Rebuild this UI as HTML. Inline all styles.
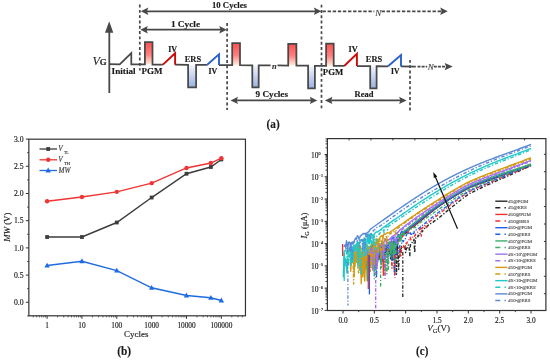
<!DOCTYPE html>
<html><head><meta charset="utf-8"><style>
text{stroke-width:0.15px;}
html,body{margin:0;padding:0;background:#fff;}
svg{display:block;will-change:transform;}
</style></head><body>
<svg width="550" height="360" viewBox="0 0 550 360">
<rect width="550" height="360" fill="#fff"/>
<line x1="139.8" y1="4.6" x2="139.8" y2="70.5" stroke="#484848" stroke-width="1.7" stroke-dasharray="2.9 2.4"/>
<line x1="227.1" y1="23.0" x2="227.1" y2="110.0" stroke="#484848" stroke-width="1.7" stroke-dasharray="2.9 2.4"/>
<line x1="321.5" y1="4.7" x2="321.5" y2="108.5" stroke="#484848" stroke-width="1.7" stroke-dasharray="2.9 2.4"/>
<line x1="410.0" y1="59.9" x2="410.0" y2="110.5" stroke="#484848" stroke-width="1.7" stroke-dasharray="2.9 2.4"/>
<line x1="144.8" y1="11.3" x2="317.4" y2="11.3" stroke="#484848" stroke-width="1.8"/>
<polygon points="140.80,11.30 148.30,7.60 147.00,11.30 148.30,15.00" fill="#484848"/>
<polygon points="321.40,11.30 313.90,7.60 315.20,11.30 313.90,15.00" fill="#484848"/>
<line x1="144.3" y1="29.7" x2="222.8" y2="29.7" stroke="#484848" stroke-width="1.8"/>
<polygon points="140.30,29.70 147.80,26.00 146.50,29.70 147.80,33.40" fill="#484848"/>
<polygon points="226.80,29.70 219.30,26.00 220.60,29.70 219.30,33.40" fill="#484848"/>
<line x1="234.5" y1="100.4" x2="313.3" y2="100.4" stroke="#484848" stroke-width="1.8"/>
<polygon points="230.50,100.40 238.00,96.70 236.70,100.40 238.00,104.10" fill="#484848"/>
<polygon points="317.30,100.40 309.80,96.70 311.10,100.40 309.80,104.10" fill="#484848"/>
<line x1="328.9" y1="100.4" x2="402.6" y2="100.4" stroke="#484848" stroke-width="1.8"/>
<polygon points="324.90,100.40 332.40,96.70 331.10,100.40 332.40,104.10" fill="#484848"/>
<polygon points="406.60,100.40 399.10,96.70 400.40,100.40 399.10,104.10" fill="#484848"/>
<line x1="322.5" y1="11.4" x2="374.3" y2="11.4" stroke="#484848" stroke-width="1.8" stroke-dasharray="3.4 1.7"/>
<line x1="381.5" y1="11.4" x2="442" y2="11.4" stroke="#484848" stroke-width="1.8" stroke-dasharray="3.4 1.7"/>
<polygon points="447.70,11.30 440.20,7.60 441.50,11.30 440.20,15.00" fill="#484848"/>
<text x="375.2" y="15.6" font-family="'Liberation Serif', serif" font-style="italic" font-size="9" fill="#484848" stroke="#484848">N</text>
<defs><linearGradient id="gp" x1="0" y1="0" x2="0" y2="1"><stop offset="0" stop-color="#ff5050"/><stop offset="0.55" stop-color="#ff8080"/><stop offset="1" stop-color="#ffeedd"/></linearGradient><linearGradient id="ge" x1="0" y1="0" x2="0" y2="1"><stop offset="0" stop-color="#f4f6fc"/><stop offset="1" stop-color="#98b0e0"/></linearGradient></defs>
<rect x="144.9" y="42.0" width="7.60" height="22.49" fill="url(#gp)"/>
<rect x="232.2" y="43.2" width="7.80" height="21.94" fill="url(#gp)"/>
<rect x="288.2" y="43.9" width="8.20" height="21.66" fill="url(#gp)"/>
<rect x="326.1" y="43.6" width="7.60" height="22.25" fill="url(#gp)"/>
<rect x="188.1" y="64.81" width="8.00" height="22.49" fill="url(#ge)"/>
<rect x="252.3" y="65.29" width="6.40" height="22.11" fill="url(#ge)"/>
<rect x="308.1" y="65.71" width="6.80" height="22.59" fill="url(#ge)"/>
<rect x="370.2" y="66.18" width="6.40" height="22.12" fill="url(#ge)"/>
<polyline points="109.30,64.22 119.70,64.30 131.30,53.00 131.30,64.38 144.90,64.49 144.90,42.00 152.50,42.00 152.50,64.54 162.90,64.62" fill="none" stroke="#484848" stroke-width="1.75" stroke-linejoin="miter" stroke-linecap="butt"/>
<polyline points="175.10,64.71 188.10,64.81 188.10,87.30 196.10,87.30 196.10,64.87 206.90,64.95" fill="none" stroke="#484848" stroke-width="1.75" stroke-linejoin="miter" stroke-linecap="butt"/>
<polyline points="219.00,65.04 232.20,65.14 232.20,43.20 240.00,43.20 240.00,65.20 252.30,65.29 252.30,87.40 258.70,87.40 258.70,65.34 270.60,65.43" fill="none" stroke="#484848" stroke-width="1.75" stroke-linejoin="miter" stroke-linecap="butt"/>
<polyline points="277.50,65.48 288.20,65.56 288.20,43.90 296.40,43.90 296.40,65.62 308.10,65.71 308.10,88.30 314.90,88.30 314.90,65.76 326.10,65.85 326.10,43.60 333.70,43.60 333.70,65.90 344.20,65.98" fill="none" stroke="#484848" stroke-width="1.75" stroke-linejoin="miter" stroke-linecap="butt"/>
<polyline points="356.90,66.08 370.20,66.18 370.20,88.30 376.60,88.30 376.60,66.22 388.00,66.31" fill="none" stroke="#484848" stroke-width="1.75" stroke-linejoin="miter" stroke-linecap="butt"/>
<polyline points="401.00,66.41 415.80,66.52" fill="none" stroke="#484848" stroke-width="1.75" stroke-linejoin="miter" stroke-linecap="butt"/>
<polyline points="162.90,64.62 175.10,53.20 175.10,64.71" fill="none" stroke="#cc0a0a" stroke-width="1.9" stroke-linejoin="miter"/>
<polyline points="206.90,64.95 219.00,54.40 219.00,65.04" fill="none" stroke="#2a60cc" stroke-width="1.9" stroke-linejoin="miter"/>
<polyline points="344.20,65.98 356.90,53.80 356.90,66.08" fill="none" stroke="#cc0a0a" stroke-width="1.9" stroke-linejoin="miter"/>
<polyline points="388.00,66.31 401.00,55.00 401.00,66.41" fill="none" stroke="#2a60cc" stroke-width="1.9" stroke-linejoin="miter"/>
<text x="271.9" y="68.75" font-family="'Liberation Serif', serif" font-style="italic" font-weight="bold" font-size="8.4" fill="#333" stroke="#333">n</text>
<line x1="417.5" y1="66.62" x2="427.2" y2="66.62" stroke="#484848" stroke-width="1.8" stroke-dasharray="3 1.1"/>
<line x1="433.8" y1="66.62" x2="445" y2="66.62" stroke="#484848" stroke-width="1.8" stroke-dasharray="3 1.1"/>
<polygon points="452.70,66.62 444.70,63.02 446.00,66.62 444.70,70.22" fill="#484848"/>
<text x="427.8" y="69.92" font-family="'Liberation Serif', serif" font-style="italic" font-size="9" fill="#484848" stroke="#484848">N</text>
<line x1="109.3" y1="93" x2="109.3" y2="31" stroke="#484848" stroke-width="1.8"/>
<polygon points="109.2,21.3 105,32.8 113.3,32.8" fill="#484848"/>
<text x="92.6" y="64.7" font-family="'Liberation Serif', serif" font-style="italic" font-size="12.2" fill="#2a2a2a" stroke="#2a2a2a">V</text>
<text x="99.8" y="65.4" font-family="'Liberation Serif', serif" font-weight="bold" font-size="8.8" fill="#2a2a2a" stroke="#2a2a2a">G</text>
<text x="212.0" y="8.4" font-family="'Liberation Serif', serif" font-weight="bold" font-size="8.7" fill="#1a1a1a" text-anchor="start" textLength="35" lengthAdjust="spacingAndGlyphs" stroke="#1a1a1a">10 Cycles</text>
<text x="170.9" y="26.7" font-family="'Liberation Serif', serif" font-weight="bold" font-size="8.6" fill="#1a1a1a" text-anchor="start" textLength="29.2" lengthAdjust="spacingAndGlyphs" stroke="#1a1a1a">1 Cycle</text>
<text x="255.6" y="97.0" font-family="'Liberation Serif', serif" font-weight="bold" font-size="8.6" fill="#1a1a1a" text-anchor="start" textLength="32.4" lengthAdjust="spacingAndGlyphs" stroke="#1a1a1a">9 Cycles</text>
<text x="354.6" y="97.0" font-family="'Liberation Serif', serif" font-weight="bold" font-size="8.5" fill="#1a1a1a" text-anchor="start" stroke="#1a1a1a">Read</text>
<text x="111.6" y="74.4" font-family="'Liberation Serif', serif" font-weight="bold" font-size="8.7" fill="#1a1a1a" text-anchor="start" textLength="24.0" lengthAdjust="spacingAndGlyphs" stroke="#1a1a1a">Initial</text>
<text x="141.5" y="74.3" font-family="'Liberation Serif', serif" font-weight="bold" font-size="8.7" fill="#1a1a1a" text-anchor="start" textLength="21.0" lengthAdjust="spacingAndGlyphs" stroke="#1a1a1a">PGM</text>
<text x="322.8" y="74.9" font-family="'Liberation Serif', serif" font-weight="bold" font-size="8.7" fill="#1a1a1a" text-anchor="start" textLength="20.4" lengthAdjust="spacingAndGlyphs" stroke="#1a1a1a">PGM</text>
<text x="168.2" y="52.1" font-family="'Liberation Serif', serif" font-weight="bold" font-size="8.0" fill="#1a1a1a" text-anchor="start" textLength="8.9" lengthAdjust="spacingAndGlyphs" stroke="#1a1a1a">IV</text>
<text x="348.5" y="52.3" font-family="'Liberation Serif', serif" font-weight="bold" font-size="8.0" fill="#1a1a1a" text-anchor="start" textLength="9.2" lengthAdjust="spacingAndGlyphs" stroke="#1a1a1a">IV</text>
<text x="184.7" y="61.7" font-family="'Liberation Serif', serif" font-weight="bold" font-size="8.5" fill="#1a1a1a" text-anchor="start" textLength="16.4" lengthAdjust="spacingAndGlyphs" stroke="#1a1a1a">ERS</text>
<text x="365.8" y="61.9" font-family="'Liberation Serif', serif" font-weight="bold" font-size="8.5" fill="#1a1a1a" text-anchor="start" textLength="16.4" lengthAdjust="spacingAndGlyphs" stroke="#1a1a1a">ERS</text>
<text x="208.5" y="73.8" font-family="'Liberation Serif', serif" font-weight="bold" font-size="8.0" fill="#1a1a1a" text-anchor="start" textLength="8.8" lengthAdjust="spacingAndGlyphs" stroke="#1a1a1a">IV</text>
<text x="391.0" y="74.4" font-family="'Liberation Serif', serif" font-weight="bold" font-size="8.0" fill="#1a1a1a" text-anchor="start" textLength="8.4" lengthAdjust="spacingAndGlyphs" stroke="#1a1a1a">IV</text>
<text x="266.6" y="127.8" font-family="'Liberation Serif', serif" font-weight="bold" font-size="11.5" fill="#1a1a1a" text-anchor="start" textLength="13.1" lengthAdjust="spacingAndGlyphs" stroke="#1a1a1a">(a)</text>
<text x="117.2" y="355.0" font-family="'Liberation Serif', serif" font-weight="bold" font-size="11.5" fill="#1a1a1a" text-anchor="start" textLength="13.9" lengthAdjust="spacingAndGlyphs" stroke="#1a1a1a">(b)</text>
<text x="416.1" y="355.0" font-family="'Liberation Serif', serif" font-weight="bold" font-size="11.5" fill="#1a1a1a" text-anchor="start" textLength="12.2" lengthAdjust="spacingAndGlyphs" stroke="#1a1a1a">(c)</text>
<rect x="28.85" y="139.2" width="216.60" height="176.60" fill="none" stroke="#333333" stroke-width="1.2"/>
<line x1="27.25" y1="315.90" x2="28.85" y2="315.90" stroke="#333333" stroke-width="1"/>
<line x1="25.85" y1="302.30" x2="28.85" y2="302.30" stroke="#333333" stroke-width="1"/>
<text x="23.6" y="304.90" font-family="'Liberation Serif', serif" font-size="7.7" fill="#1a1a1a" text-anchor="end" stroke="#1a1a1a">0.0</text>
<line x1="27.25" y1="288.70" x2="28.85" y2="288.70" stroke="#333333" stroke-width="1"/>
<line x1="25.85" y1="275.10" x2="28.85" y2="275.10" stroke="#333333" stroke-width="1"/>
<text x="23.6" y="277.70" font-family="'Liberation Serif', serif" font-size="7.7" fill="#1a1a1a" text-anchor="end" stroke="#1a1a1a">0.5</text>
<line x1="27.25" y1="261.50" x2="28.85" y2="261.50" stroke="#333333" stroke-width="1"/>
<line x1="25.85" y1="247.90" x2="28.85" y2="247.90" stroke="#333333" stroke-width="1"/>
<text x="23.6" y="250.50" font-family="'Liberation Serif', serif" font-size="7.7" fill="#1a1a1a" text-anchor="end" stroke="#1a1a1a">1.0</text>
<line x1="27.25" y1="234.30" x2="28.85" y2="234.30" stroke="#333333" stroke-width="1"/>
<line x1="25.85" y1="220.70" x2="28.85" y2="220.70" stroke="#333333" stroke-width="1"/>
<text x="23.6" y="223.30" font-family="'Liberation Serif', serif" font-size="7.7" fill="#1a1a1a" text-anchor="end" stroke="#1a1a1a">1.5</text>
<line x1="27.25" y1="207.10" x2="28.85" y2="207.10" stroke="#333333" stroke-width="1"/>
<line x1="25.85" y1="193.50" x2="28.85" y2="193.50" stroke="#333333" stroke-width="1"/>
<text x="23.6" y="196.10" font-family="'Liberation Serif', serif" font-size="7.7" fill="#1a1a1a" text-anchor="end" stroke="#1a1a1a">2.0</text>
<line x1="27.25" y1="179.90" x2="28.85" y2="179.90" stroke="#333333" stroke-width="1"/>
<line x1="25.85" y1="166.30" x2="28.85" y2="166.30" stroke="#333333" stroke-width="1"/>
<text x="23.6" y="168.90" font-family="'Liberation Serif', serif" font-size="7.7" fill="#1a1a1a" text-anchor="end" stroke="#1a1a1a">2.5</text>
<line x1="27.25" y1="152.70" x2="28.85" y2="152.70" stroke="#333333" stroke-width="1"/>
<line x1="25.85" y1="139.10" x2="28.85" y2="139.10" stroke="#333333" stroke-width="1"/>
<text x="23.6" y="141.70" font-family="'Liberation Serif', serif" font-size="7.7" fill="#1a1a1a" text-anchor="end" stroke="#1a1a1a">3.0</text>
<line x1="33.23" y1="315.8" x2="33.23" y2="317.40000000000003" stroke="#333333" stroke-width="0.8"/>
<line x1="36.61" y1="315.8" x2="36.61" y2="317.40000000000003" stroke="#333333" stroke-width="0.8"/>
<line x1="39.37" y1="315.8" x2="39.37" y2="317.40000000000003" stroke="#333333" stroke-width="0.8"/>
<line x1="41.70" y1="315.8" x2="41.70" y2="317.40000000000003" stroke="#333333" stroke-width="0.8"/>
<line x1="43.72" y1="315.8" x2="43.72" y2="317.40000000000003" stroke="#333333" stroke-width="0.8"/>
<line x1="45.51" y1="315.8" x2="45.51" y2="317.40000000000003" stroke="#333333" stroke-width="0.8"/>
<line x1="47.10" y1="315.8" x2="47.10" y2="318.8" stroke="#333333" stroke-width="1"/>
<text x="47.10" y="327.9" font-family="'Liberation Serif', serif" font-size="7.3" fill="#1a1a1a" text-anchor="middle" stroke="#1a1a1a">1</text>
<line x1="57.59" y1="315.8" x2="57.59" y2="317.40000000000003" stroke="#333333" stroke-width="0.8"/>
<line x1="63.73" y1="315.8" x2="63.73" y2="317.40000000000003" stroke="#333333" stroke-width="0.8"/>
<line x1="68.08" y1="315.8" x2="68.08" y2="317.40000000000003" stroke="#333333" stroke-width="0.8"/>
<line x1="71.46" y1="315.8" x2="71.46" y2="317.40000000000003" stroke="#333333" stroke-width="0.8"/>
<line x1="74.22" y1="315.8" x2="74.22" y2="317.40000000000003" stroke="#333333" stroke-width="0.8"/>
<line x1="76.55" y1="315.8" x2="76.55" y2="317.40000000000003" stroke="#333333" stroke-width="0.8"/>
<line x1="78.57" y1="315.8" x2="78.57" y2="317.40000000000003" stroke="#333333" stroke-width="0.8"/>
<line x1="80.36" y1="315.8" x2="80.36" y2="317.40000000000003" stroke="#333333" stroke-width="0.8"/>
<line x1="81.95" y1="315.8" x2="81.95" y2="318.8" stroke="#333333" stroke-width="1"/>
<text x="81.95" y="327.9" font-family="'Liberation Serif', serif" font-size="7.3" fill="#1a1a1a" text-anchor="middle" stroke="#1a1a1a">10</text>
<line x1="92.44" y1="315.8" x2="92.44" y2="317.40000000000003" stroke="#333333" stroke-width="0.8"/>
<line x1="98.58" y1="315.8" x2="98.58" y2="317.40000000000003" stroke="#333333" stroke-width="0.8"/>
<line x1="102.93" y1="315.8" x2="102.93" y2="317.40000000000003" stroke="#333333" stroke-width="0.8"/>
<line x1="106.31" y1="315.8" x2="106.31" y2="317.40000000000003" stroke="#333333" stroke-width="0.8"/>
<line x1="109.07" y1="315.8" x2="109.07" y2="317.40000000000003" stroke="#333333" stroke-width="0.8"/>
<line x1="111.40" y1="315.8" x2="111.40" y2="317.40000000000003" stroke="#333333" stroke-width="0.8"/>
<line x1="113.42" y1="315.8" x2="113.42" y2="317.40000000000003" stroke="#333333" stroke-width="0.8"/>
<line x1="115.21" y1="315.8" x2="115.21" y2="317.40000000000003" stroke="#333333" stroke-width="0.8"/>
<line x1="116.80" y1="315.8" x2="116.80" y2="318.8" stroke="#333333" stroke-width="1"/>
<text x="116.80" y="327.9" font-family="'Liberation Serif', serif" font-size="7.3" fill="#1a1a1a" text-anchor="middle" stroke="#1a1a1a">100</text>
<line x1="127.29" y1="315.8" x2="127.29" y2="317.40000000000003" stroke="#333333" stroke-width="0.8"/>
<line x1="133.43" y1="315.8" x2="133.43" y2="317.40000000000003" stroke="#333333" stroke-width="0.8"/>
<line x1="137.78" y1="315.8" x2="137.78" y2="317.40000000000003" stroke="#333333" stroke-width="0.8"/>
<line x1="141.16" y1="315.8" x2="141.16" y2="317.40000000000003" stroke="#333333" stroke-width="0.8"/>
<line x1="143.92" y1="315.8" x2="143.92" y2="317.40000000000003" stroke="#333333" stroke-width="0.8"/>
<line x1="146.25" y1="315.8" x2="146.25" y2="317.40000000000003" stroke="#333333" stroke-width="0.8"/>
<line x1="148.27" y1="315.8" x2="148.27" y2="317.40000000000003" stroke="#333333" stroke-width="0.8"/>
<line x1="150.06" y1="315.8" x2="150.06" y2="317.40000000000003" stroke="#333333" stroke-width="0.8"/>
<line x1="151.65" y1="315.8" x2="151.65" y2="318.8" stroke="#333333" stroke-width="1"/>
<text x="151.65" y="327.9" font-family="'Liberation Serif', serif" font-size="7.3" fill="#1a1a1a" text-anchor="middle" stroke="#1a1a1a">1000</text>
<line x1="162.14" y1="315.8" x2="162.14" y2="317.40000000000003" stroke="#333333" stroke-width="0.8"/>
<line x1="168.28" y1="315.8" x2="168.28" y2="317.40000000000003" stroke="#333333" stroke-width="0.8"/>
<line x1="172.63" y1="315.8" x2="172.63" y2="317.40000000000003" stroke="#333333" stroke-width="0.8"/>
<line x1="176.01" y1="315.8" x2="176.01" y2="317.40000000000003" stroke="#333333" stroke-width="0.8"/>
<line x1="178.77" y1="315.8" x2="178.77" y2="317.40000000000003" stroke="#333333" stroke-width="0.8"/>
<line x1="181.10" y1="315.8" x2="181.10" y2="317.40000000000003" stroke="#333333" stroke-width="0.8"/>
<line x1="183.12" y1="315.8" x2="183.12" y2="317.40000000000003" stroke="#333333" stroke-width="0.8"/>
<line x1="184.91" y1="315.8" x2="184.91" y2="317.40000000000003" stroke="#333333" stroke-width="0.8"/>
<line x1="186.50" y1="315.8" x2="186.50" y2="318.8" stroke="#333333" stroke-width="1"/>
<text x="186.50" y="327.9" font-family="'Liberation Serif', serif" font-size="7.3" fill="#1a1a1a" text-anchor="middle" stroke="#1a1a1a">10000</text>
<line x1="196.99" y1="315.8" x2="196.99" y2="317.40000000000003" stroke="#333333" stroke-width="0.8"/>
<line x1="203.13" y1="315.8" x2="203.13" y2="317.40000000000003" stroke="#333333" stroke-width="0.8"/>
<line x1="207.48" y1="315.8" x2="207.48" y2="317.40000000000003" stroke="#333333" stroke-width="0.8"/>
<line x1="210.86" y1="315.8" x2="210.86" y2="317.40000000000003" stroke="#333333" stroke-width="0.8"/>
<line x1="213.62" y1="315.8" x2="213.62" y2="317.40000000000003" stroke="#333333" stroke-width="0.8"/>
<line x1="215.95" y1="315.8" x2="215.95" y2="317.40000000000003" stroke="#333333" stroke-width="0.8"/>
<line x1="217.97" y1="315.8" x2="217.97" y2="317.40000000000003" stroke="#333333" stroke-width="0.8"/>
<line x1="219.76" y1="315.8" x2="219.76" y2="317.40000000000003" stroke="#333333" stroke-width="0.8"/>
<line x1="221.35" y1="315.8" x2="221.35" y2="318.8" stroke="#333333" stroke-width="1"/>
<text x="221.35" y="327.9" font-family="'Liberation Serif', serif" font-size="7.3" fill="#1a1a1a" text-anchor="middle" stroke="#1a1a1a">100000</text>
<line x1="231.84" y1="315.8" x2="231.84" y2="317.40000000000003" stroke="#333333" stroke-width="0.8"/>
<line x1="237.98" y1="315.8" x2="237.98" y2="317.40000000000003" stroke="#333333" stroke-width="0.8"/>
<line x1="242.33" y1="315.8" x2="242.33" y2="317.40000000000003" stroke="#333333" stroke-width="0.8"/>
<text x="123.9" y="336.7" font-family="'Liberation Serif', serif" font-size="9" fill="#1a1a1a" stroke="#1a1a1a">Cycles</text>
<text transform="translate(10.3,241.7) rotate(-90)" font-family="'Liberation Serif', serif" font-size="8.8" fill="#1a1a1a" stroke="#1a1a1a"><tspan font-style="italic">MW</tspan> (V)</text>
<polyline points="47.10,237.02 81.95,237.02 116.80,222.50 151.65,197.53 186.50,173.75 210.86,167.01 221.35,159.50" fill="none" stroke="#3d3d3d" stroke-width="1.45"/>
<rect x="45.20" y="235.12" width="3.8" height="3.8" fill="#3d3d3d"/>
<rect x="80.05" y="235.12" width="3.8" height="3.8" fill="#3d3d3d"/>
<rect x="114.90" y="220.60" width="3.8" height="3.8" fill="#3d3d3d"/>
<rect x="149.75" y="195.63" width="3.8" height="3.8" fill="#3d3d3d"/>
<rect x="184.60" y="171.85" width="3.8" height="3.8" fill="#3d3d3d"/>
<rect x="208.96" y="165.11" width="3.8" height="3.8" fill="#3d3d3d"/>
<rect x="219.45" y="157.60" width="3.8" height="3.8" fill="#3d3d3d"/>
<polyline points="47.10,201.28 81.95,196.98 116.80,191.87 151.65,183.16 186.50,167.93 210.86,163.04 221.35,158.14" fill="none" stroke="#f03535" stroke-width="1.45"/>
<circle cx="47.10" cy="201.28" r="2.2" fill="#f03535"/>
<circle cx="81.95" cy="196.98" r="2.2" fill="#f03535"/>
<circle cx="116.80" cy="191.87" r="2.2" fill="#f03535"/>
<circle cx="151.65" cy="183.16" r="2.2" fill="#f03535"/>
<circle cx="186.50" cy="167.93" r="2.2" fill="#f03535"/>
<circle cx="210.86" cy="163.04" r="2.2" fill="#f03535"/>
<circle cx="221.35" cy="158.14" r="2.2" fill="#f03535"/>
<polyline points="47.10,265.53 81.95,261.23 116.80,270.58 151.65,287.78 186.50,295.50 210.86,297.78 221.35,300.50" fill="none" stroke="#1f6be0" stroke-width="1.45"/>
<polygon points="47.10,262.63 44.40,267.43 49.80,267.43" fill="#1f6be0"/>
<polygon points="81.95,258.33 79.25,263.13 84.65,263.13" fill="#1f6be0"/>
<polygon points="116.80,267.68 114.10,272.48 119.50,272.48" fill="#1f6be0"/>
<polygon points="151.65,284.88 148.95,289.68 154.35,289.68" fill="#1f6be0"/>
<polygon points="186.50,292.60 183.80,297.40 189.20,297.40" fill="#1f6be0"/>
<polygon points="210.86,294.88 208.16,299.68 213.56,299.68" fill="#1f6be0"/>
<polygon points="221.35,297.60 218.65,302.40 224.05,302.40" fill="#1f6be0"/>
<line x1="39.5" y1="149.0" x2="57" y2="149.0" stroke="#3d3d3d" stroke-width="1.3"/>
<rect x="46.30" y="147.10" width="3.8" height="3.8" fill="#3d3d3d"/>
<line x1="39.5" y1="159.8" x2="57" y2="159.8" stroke="#f03535" stroke-width="1.3"/>
<circle cx="48.20" cy="159.80" r="2.2" fill="#f03535"/>
<line x1="39.5" y1="170.5" x2="57" y2="170.5" stroke="#1f6be0" stroke-width="1.3"/>
<polygon points="48.20,167.60 45.50,172.40 50.90,172.40" fill="#1f6be0"/>
<text x="58.2" y="151.4" font-family="'Liberation Serif', serif" font-style="italic" font-size="7.2" fill="#444" stroke="#444">V</text>
<text x="63.9" y="154.0" font-family="'Liberation Serif', serif" font-size="4.7" fill="#444" textLength="4.8" lengthAdjust="spacingAndGlyphs" stroke="#444">TL</text>
<text x="58.2" y="162.0" font-family="'Liberation Serif', serif" font-style="italic" font-size="7.2" fill="#444" stroke="#444">V</text>
<text x="63.9" y="164.6" font-family="'Liberation Serif', serif" font-size="4.7" fill="#444" textLength="6.2" lengthAdjust="spacingAndGlyphs" stroke="#444">TH</text>
<text x="58.4" y="173.1" font-family="'Liberation Serif', serif" font-style="italic" font-size="7.2" fill="#444" stroke="#444">MW</text>
<polyline points="377.47,251.63 378.17,247.00 378.87,259.58 379.57,249.25 380.27,256.62 380.97,253.70 381.67,255.92 382.37,260.50 383.07,249.25 383.77,248.10 384.47,247.67 385.17,255.16 385.87,246.94 386.57,249.75 387.27,249.69 387.97,248.08 388.67,247.21 389.37,249.16 390.07,247.41 390.77,258.92 391.47,246.73 392.17,246.78 392.87,246.56 393.57,244.30 394.27,245.41 394.97,243.21 395.67,244.22 396.37,241.87 397.07,252.77 397.77,240.01 398.47,240.22 399.17,239.98 399.87,238.06 400.57,236.88 401.27,235.76 401.97,235.73 402.67,232.97 403.37,232.82 404.07,233.55 404.77,232.99 405.47,233.51 406.17,233.17 406.87,231.89 407.57,231.64 408.27,230.09 408.97,229.82 409.67,228.77 410.37,228.44 411.07,227.87 411.77,227.12 412.47,227.13 413.17,226.55 413.87,226.30 414.57,225.87 415.27,225.09 415.97,224.24 416.67,223.78 417.37,223.31 418.07,222.80 418.77,222.15 419.47,221.58 420.17,221.00 420.87,220.42 421.57,219.85 422.27,219.27 422.97,218.70 423.67,218.12 424.37,217.55 425.07,216.99 425.77,216.42 426.47,215.85 427.17,215.29 427.87,214.73 428.57,214.17 429.27,213.61 429.97,213.05 430.67,212.50 431.37,211.95 432.07,211.40 432.77,210.85 433.47,210.30 434.17,209.76 434.87,209.21 435.57,208.67 436.27,208.13 436.97,207.60 437.67,207.12 438.37,206.64 439.07,206.16 439.77,205.69 440.47,205.22 441.17,204.75 441.87,204.28 442.57,203.82 443.27,203.35 443.97,202.89 444.67,202.43 445.37,201.98 446.07,201.52 446.77,201.07 447.47,200.62 448.17,200.17 448.87,199.72 449.57,199.28 450.27,198.83 450.97,198.39 451.67,197.95 452.37,197.52 453.07,197.08 453.77,196.65 454.47,196.22 455.17,195.79 455.87,195.36 456.57,194.94 457.27,194.51 457.97,194.09 458.67,193.67 459.37,193.26 460.07,192.84 460.77,192.43 461.47,192.02 462.17,191.61 462.87,191.20 463.57,190.79 464.27,190.39 464.97,189.99 465.67,189.59 466.37,189.19 467.07,188.79 467.77,188.40 468.47,188.02 469.17,187.73 469.87,187.44 470.57,187.15 471.27,186.87 471.97,186.58 472.67,186.30 473.37,186.02 474.07,185.74 474.77,185.46 475.47,185.19 476.17,184.91 476.87,184.64 477.57,184.37 478.27,184.10 478.97,183.83 479.67,183.57 480.37,183.30 481.07,183.04 481.77,182.78 482.47,182.52 483.17,182.26 483.87,182.00 484.57,181.74 485.27,181.49 485.97,181.23 486.67,180.98 487.37,180.73 488.07,180.48 488.77,180.23 489.47,179.98 490.17,179.73 490.87,179.48 491.57,179.24 492.27,178.99 492.97,178.75 493.67,178.51 494.37,178.27 495.07,178.02 495.77,177.78 496.47,177.55 497.17,177.31 497.87,177.07 498.57,176.83 499.27,176.60 499.97,176.35 500.67,176.09 501.37,175.84 502.07,175.58 502.77,175.32 503.47,175.07 504.17,174.81 504.87,174.56 505.57,174.30 506.27,174.05 506.97,173.79 507.67,173.54 508.37,173.28 509.07,173.03 509.77,172.78 510.47,172.52 511.17,172.27 511.87,172.01 512.57,171.76 513.27,171.50 513.97,171.25 514.67,170.99 515.37,170.74 516.07,170.48 516.77,170.23 517.47,169.97 518.17,169.71 518.87,169.45 519.57,169.20 520.27,168.94 520.97,168.68 521.67,168.42 522.37,168.15 523.07,167.89 523.77,167.63 524.47,167.36 525.17,167.10 525.87,166.83 526.57,166.56 527.27,166.29 527.97,166.02 528.67,165.75 529.37,165.48 530.07,165.20 530.77,164.93 531.01,164.83" fill="none" stroke="#262626" stroke-width="1.4" stroke-linejoin="round"/>
<polyline points="379.70,251.53 380.40,254.87 381.10,251.66 381.80,251.48 382.50,253.76 383.20,251.18 383.90,250.49 384.60,248.88 385.30,247.54 386.00,245.29 386.70,251.39 387.40,247.01 388.10,244.34 388.80,251.13 389.50,253.63 390.20,250.71 390.90,247.82 391.60,250.37 392.30,259.94 393.00,254.05 393.70,247.05 394.40,273.00 395.10,249.53 395.80,251.40 396.50,274.33 397.20,251.88 397.90,252.06 398.60,269.37 399.30,251.17 400.00,249.58 400.70,253.47 401.40,246.37 402.10,246.68 402.80,247.10 403.50,246.66 404.20,245.73 404.90,245.56 405.60,252.50 406.30,249.04 407.00,247.90 407.70,246.36 408.40,244.94 409.10,247.51 409.80,255.64 410.50,243.87 411.20,243.43 411.90,243.12 412.60,241.33 413.30,241.66 414.00,239.33 414.70,252.86 415.40,238.25 416.10,237.92 416.80,237.47 417.50,237.75 418.20,235.17 418.90,235.74 419.60,235.85 420.30,232.54 421.00,232.12 421.70,230.90 422.40,231.60 423.10,230.35 423.80,229.45 424.50,228.52 425.20,227.95 425.90,227.30 426.60,227.31 427.30,225.99 428.00,225.66 428.70,224.58 429.40,224.36 430.10,223.90 430.80,223.44 431.50,223.54 432.20,222.88 432.90,222.44 433.60,221.65 434.30,221.15 435.00,220.68 435.70,220.33 436.40,219.78 437.10,219.26 437.80,218.75 438.50,218.23 439.20,217.67 439.90,217.07 440.60,216.47 441.30,215.87 442.00,215.27 442.70,214.68 443.40,214.09 444.10,213.49 444.80,212.91 445.50,212.32 446.20,211.74 446.90,211.15 447.60,210.57 448.30,210.00 449.00,209.42 449.70,208.84 450.40,208.27 451.10,207.70 451.80,207.13 452.50,206.57 453.20,206.00 453.90,205.44 454.60,204.88 455.30,204.32 456.00,203.77 456.70,203.21 457.40,202.66 458.10,202.11 458.80,201.56 459.50,201.01 460.20,200.47 460.90,199.93 461.60,199.39 462.30,198.85 463.00,198.31 463.70,197.78 464.40,197.24 465.10,196.71 465.80,196.18 466.50,195.65 467.20,195.13 467.90,194.60 468.60,194.14 469.30,193.78 470.00,193.42 470.70,193.07 471.40,192.71 472.10,192.36 472.80,192.01 473.50,191.66 474.20,191.31 474.90,190.96 475.60,190.62 476.30,190.28 477.00,189.94 477.70,189.60 478.40,189.26 479.10,188.92 479.80,188.58 480.50,188.25 481.20,187.92 481.90,187.59 482.60,187.26 483.30,186.93 484.00,186.60 484.70,186.28 485.40,185.95 486.10,185.63 486.80,185.30 487.50,184.98 488.20,184.66 488.90,184.35 489.60,184.03 490.30,183.71 491.00,183.40 491.70,183.08 492.40,182.77 493.10,182.46 493.80,182.14 494.50,181.83 495.20,181.52 495.90,181.21 496.60,180.91 497.30,180.60 498.00,180.29 498.70,179.98 499.40,179.68 500.10,179.37 500.80,179.06 501.50,178.75 502.20,178.45 502.90,178.14 503.60,177.83 504.30,177.52 505.00,177.22 505.70,176.91 506.40,176.61 507.10,176.30 507.80,175.99 508.50,175.69 509.20,175.38 509.90,175.08 510.60,174.77 511.30,174.47 512.00,174.16 512.70,173.86 513.40,173.55 514.10,173.24 514.80,172.94 515.50,172.63 516.20,172.32 516.90,172.01 517.60,171.71 518.30,171.40 519.00,171.09 519.70,170.78 520.40,170.47 521.10,170.16 521.80,169.84 522.50,169.53 523.20,169.22 523.90,168.90 524.60,168.58 525.30,168.27 526.00,167.95 526.70,167.63 527.40,167.31 528.10,166.99 528.80,166.66 529.50,166.34 530.20,166.01 530.90,165.68 531.01,165.63" fill="none" stroke="#262626" stroke-width="1.4" stroke-dasharray="3.5 1.8 1.2 1.8" stroke-linejoin="round"/>
<polyline points="365.22,247.80 365.92,247.61 366.62,250.79 367.32,248.56 368.02,268.41 368.72,251.58 369.42,252.34 370.12,252.40 370.82,248.03 371.52,251.64 372.22,259.05 372.92,249.34 373.62,248.86 374.32,249.03 375.02,246.75 375.72,249.79 376.42,254.23 377.12,250.69 377.82,249.81 378.52,253.84 379.22,249.37 379.92,246.24 380.62,249.42 381.32,258.09 382.02,249.48 382.72,247.68 383.42,275.25 384.12,249.80 384.82,249.29 385.52,248.33 386.22,249.38 386.92,249.00 387.62,250.51 388.32,247.08 389.02,250.35 389.72,247.56 390.42,245.74 391.12,243.79 391.82,245.28 392.52,243.65 393.22,241.77 393.92,242.20 394.62,241.84 395.32,241.24 396.02,241.12 396.72,241.06 397.42,239.49 398.12,240.30 398.82,241.22 399.52,239.08 400.22,238.58 400.92,238.70 401.62,237.63 402.32,236.80 403.02,236.04 403.72,234.14 404.42,233.26 405.12,231.56 405.82,230.71 406.52,230.90 407.22,231.02 407.92,233.50 408.62,230.54 409.32,229.61 410.02,228.82 410.72,228.12 411.42,227.26 412.12,227.02 412.82,226.53 413.52,225.77 414.22,225.17 414.92,224.48 415.62,223.96 416.32,223.38 417.02,222.81 417.72,222.23 418.42,221.66 419.12,221.09 419.82,220.51 420.52,219.95 421.22,219.38 421.92,218.81 422.62,218.25 423.32,217.69 424.02,217.13 424.72,216.57 425.42,216.01 426.12,215.46 426.82,214.90 427.52,214.35 428.22,213.80 428.92,213.25 429.62,212.71 430.32,212.16 431.02,211.62 431.72,211.08 432.42,210.54 433.12,210.01 433.82,209.47 434.52,208.94 435.22,208.41 435.92,207.88 436.62,207.35 437.32,206.85 438.02,206.38 438.72,205.91 439.42,205.44 440.12,204.97 440.82,204.50 441.52,204.04 442.22,203.58 442.92,203.12 443.62,202.66 444.32,202.21 445.02,201.75 445.72,201.30 446.42,200.85 447.12,200.40 447.82,199.96 448.52,199.51 449.22,199.07 449.92,198.63 450.62,198.20 451.32,197.76 452.02,197.33 452.72,196.90 453.42,196.47 454.12,196.04 454.82,195.61 455.52,195.19 456.22,194.77 456.92,194.35 457.62,193.93 458.32,193.51 459.02,193.10 459.72,192.69 460.42,192.28 461.12,191.87 461.82,191.47 462.52,191.06 463.22,190.66 463.92,190.26 464.62,189.86 465.32,189.46 466.02,189.07 466.72,188.67 467.42,188.28 468.12,187.89 468.82,187.57 469.52,187.27 470.22,186.98 470.92,186.69 471.62,186.40 472.32,186.11 473.02,185.83 473.72,185.54 474.42,185.26 475.12,184.98 475.82,184.70 476.52,184.42 477.22,184.15 477.92,183.87 478.62,183.60 479.32,183.33 480.02,183.06 480.72,182.79 481.42,182.52 482.12,182.26 482.82,181.99 483.52,181.73 484.22,181.47 484.92,181.21 485.62,180.95 486.32,180.69 487.02,180.43 487.72,180.17 488.42,179.92 489.12,179.67 489.82,179.41 490.52,179.16 491.22,178.91 491.92,178.66 492.62,178.41 493.32,178.17 494.02,177.92 494.72,177.67 495.42,177.43 496.12,177.19 496.82,176.94 497.52,176.70 498.22,176.46 498.92,176.22 499.62,175.98 500.32,175.73 501.02,175.47 501.72,175.22 502.42,174.97 503.12,174.73 503.82,174.48 504.52,174.23 505.22,173.98 505.92,173.73 506.62,173.48 507.32,173.24 508.02,172.99 508.72,172.74 509.42,172.49 510.12,172.25 510.82,172.00 511.52,171.75 512.22,171.50 512.92,171.26 513.62,171.01 514.32,170.76 515.02,170.51 515.72,170.26 516.42,170.01 517.12,169.76 517.82,169.51 518.52,169.26 519.22,169.01 519.92,168.76 520.62,168.50 521.32,168.25 522.02,168.00 522.72,167.74 523.42,167.48 524.12,167.23 524.82,166.97 525.52,166.71 526.22,166.45 526.92,166.19 527.62,165.92 528.32,165.66 529.02,165.39 529.72,165.12 530.42,164.86 531.01,164.63" fill="none" stroke="#ee3030" stroke-width="1.4" stroke-linejoin="round"/>
<polyline points="367.45,253.59 368.15,247.73 368.85,252.09 369.55,253.46 370.25,251.16 370.95,253.09 371.65,252.30 372.35,249.78 373.05,251.01 373.75,248.02 374.45,257.87 375.15,251.98 375.85,258.00 376.55,248.63 377.25,249.13 377.95,252.06 378.65,248.81 379.35,255.71 380.05,251.03 380.75,251.63 381.45,250.14 382.15,250.47 382.85,246.62 383.55,248.34 384.25,249.87 384.95,274.60 385.65,249.14 386.35,249.67 387.05,252.13 387.75,257.98 388.45,249.64 389.15,251.07 389.85,250.08 390.55,250.85 391.25,247.82 391.95,268.17 392.65,250.51 393.35,246.20 394.05,249.48 394.75,265.23 395.45,258.47 396.15,251.55 396.85,252.57 397.55,250.67 398.25,249.44 398.95,247.21 399.65,247.52 400.35,257.23 401.05,255.21 401.75,247.58 402.45,246.96 403.15,245.33 403.85,247.09 404.55,248.30 405.25,246.28 405.95,243.15 406.65,243.76 407.35,242.08 408.05,241.10 408.75,240.43 409.45,238.58 410.15,237.42 410.85,239.74 411.55,239.18 412.25,237.13 412.95,237.16 413.65,235.74 414.35,235.95 415.05,235.95 415.75,233.91 416.45,233.31 417.15,232.65 417.85,232.05 418.55,231.24 419.25,229.98 419.95,229.28 420.65,228.45 421.35,236.07 422.05,227.59 422.75,227.59 423.45,226.06 424.15,225.90 424.85,225.20 425.55,224.51 426.25,227.55 426.95,223.68 427.65,222.88 428.35,222.36 429.05,222.00 429.75,221.40 430.45,220.77 431.15,220.27 431.85,219.73 432.55,219.16 433.25,218.59 433.95,218.02 434.65,217.45 435.35,216.89 436.05,216.33 436.75,215.77 437.45,215.20 438.15,214.64 438.85,214.07 439.55,213.51 440.25,212.95 440.95,212.39 441.65,211.83 442.35,211.28 443.05,210.72 443.75,210.17 444.45,209.62 445.15,209.08 445.85,208.53 446.55,207.99 447.25,207.45 447.95,206.91 448.65,206.37 449.35,205.84 450.05,205.30 450.75,204.77 451.45,204.24 452.15,203.72 452.85,203.19 453.55,202.67 454.25,202.15 454.95,201.63 455.65,201.11 456.35,200.60 457.05,200.08 457.75,199.57 458.45,199.06 459.15,198.56 459.85,198.05 460.55,197.55 461.25,197.05 461.95,196.55 462.65,196.05 463.35,195.55 464.05,195.06 464.75,194.57 465.45,194.08 466.15,193.59 466.85,193.10 467.55,192.62 468.25,192.13 468.95,191.78 469.65,191.44 470.35,191.11 471.05,190.78 471.75,190.45 472.45,190.13 473.15,189.80 473.85,189.48 474.55,189.15 475.25,188.83 475.95,188.51 476.65,188.19 477.35,187.88 478.05,187.56 478.75,187.25 479.45,186.94 480.15,186.63 480.85,186.32 481.55,186.01 482.25,185.71 482.95,185.40 483.65,185.10 484.35,184.80 485.05,184.50 485.75,184.20 486.45,183.90 487.15,183.60 487.85,183.31 488.55,183.01 489.25,182.72 489.95,182.43 490.65,182.13 491.35,181.84 492.05,181.55 492.75,181.27 493.45,180.98 494.15,180.69 494.85,180.41 495.55,180.12 496.25,179.84 496.95,179.55 497.65,179.27 498.35,178.99 499.05,178.71 499.75,178.43 500.45,178.13 501.15,177.84 501.85,177.55 502.55,177.26 503.25,176.97 503.95,176.68 504.65,176.40 505.35,176.11 506.05,175.82 506.75,175.53 507.45,175.24 508.15,174.96 508.85,174.67 509.55,174.38 510.25,174.09 510.95,173.81 511.65,173.52 512.35,173.23 513.05,172.94 513.75,172.65 514.45,172.36 515.15,172.08 515.85,171.79 516.55,171.50 517.25,171.21 517.95,170.92 518.65,170.62 519.35,170.33 520.05,170.04 520.75,169.75 521.45,169.45 522.15,169.16 522.85,168.86 523.55,168.56 524.25,168.27 524.95,167.97 525.65,167.67 526.35,167.37 527.05,167.06 527.75,166.76 528.45,166.46 529.15,166.15 529.85,165.84 530.55,165.53 531.01,165.33" fill="none" stroke="#ee3030" stroke-width="1.4" stroke-dasharray="3.5 1.8 1.2 1.8" stroke-linejoin="round"/>
<polyline points="362.38,266.63 363.08,250.65 363.78,249.23 364.48,248.18 365.18,268.93 365.88,248.46 366.58,265.47 367.28,254.25 367.98,251.26 368.68,256.36 369.38,249.26 370.08,251.53 370.78,246.81 371.48,248.20 372.18,246.13 372.88,245.54 373.58,246.91 374.28,248.99 374.98,269.98 375.68,251.91 376.38,250.74 377.08,250.17 377.78,253.32 378.48,252.80 379.18,251.16 379.88,254.06 380.58,251.23 381.28,246.39 381.98,248.84 382.68,251.54 383.38,251.62 384.08,247.47 384.78,245.54 385.48,245.31 386.18,246.12 386.88,247.32 387.58,248.40 388.28,244.13 388.98,243.74 389.68,242.56 390.38,242.30 391.08,252.55 391.78,239.40 392.48,237.81 393.18,237.87 393.88,237.17 394.58,251.15 395.28,240.60 395.98,242.59 396.68,237.17 397.38,244.96 398.08,234.65 398.78,234.86 399.48,236.71 400.18,237.53 400.88,232.84 401.58,231.66 402.28,231.81 402.98,231.66 403.68,232.60 404.38,232.00 405.08,232.22 405.78,231.38 406.48,231.08 407.18,230.05 407.88,229.06 408.58,227.83 409.28,227.54 409.98,228.17 410.68,226.46 411.38,226.07 412.08,225.67 412.78,225.37 413.48,224.96 414.18,224.38 414.88,223.81 415.58,223.25 416.28,222.69 416.98,222.13 417.68,221.57 418.38,221.02 419.08,220.46 419.78,219.91 420.48,219.36 421.18,218.81 421.88,218.26 422.58,217.72 423.28,217.17 423.98,216.63 424.68,216.09 425.38,215.55 426.08,215.01 426.78,214.48 427.48,213.94 428.18,213.41 428.88,212.88 429.58,212.35 430.28,211.83 430.98,211.30 431.68,210.78 432.38,210.26 433.08,209.74 433.78,209.22 434.48,208.71 435.18,208.20 435.88,207.69 436.58,207.18 437.28,206.68 437.98,206.21 438.68,205.74 439.38,205.27 440.08,204.80 440.78,204.33 441.48,203.87 442.18,203.41 442.88,202.95 443.58,202.49 444.28,202.03 444.98,201.58 445.68,201.13 446.38,200.68 447.08,200.23 447.78,199.79 448.48,199.34 449.18,198.90 449.88,198.46 450.58,198.02 451.28,197.59 451.98,197.15 452.68,196.72 453.38,196.29 454.08,195.87 454.78,195.44 455.48,195.02 456.18,194.59 456.88,194.17 457.58,193.76 458.28,193.34 458.98,192.93 459.68,192.51 460.38,192.10 461.08,191.70 461.78,191.29 462.48,190.89 463.18,190.48 463.88,190.08 464.58,189.68 465.28,189.29 465.98,188.89 466.68,188.50 467.38,188.11 468.08,187.72 468.78,187.38 469.48,187.09 470.18,186.79 470.88,186.49 471.58,186.20 472.28,185.91 472.98,185.62 473.68,185.33 474.38,185.04 475.08,184.76 475.78,184.47 476.48,184.19 477.18,183.91 477.88,183.63 478.58,183.35 479.28,183.08 479.98,182.80 480.68,182.53 481.38,182.25 482.08,181.98 482.78,181.72 483.48,181.45 484.18,181.18 484.88,180.92 485.58,180.65 486.28,180.39 486.98,180.13 487.68,179.87 488.38,179.61 489.08,179.35 489.78,179.09 490.48,178.84 491.18,178.58 491.88,178.33 492.58,178.08 493.28,177.82 493.98,177.57 494.68,177.32 495.38,177.07 496.08,176.82 496.78,176.58 497.48,176.33 498.18,176.08 498.88,175.84 499.58,175.59 500.28,175.34 500.98,175.09 501.68,174.85 502.38,174.60 503.08,174.35 503.78,174.11 504.48,173.86 505.18,173.61 505.88,173.37 506.58,173.12 507.28,172.88 507.98,172.63 508.68,172.39 509.38,172.14 510.08,171.90 510.78,171.65 511.48,171.40 512.18,171.16 512.88,170.91 513.58,170.67 514.28,170.42 514.98,170.18 515.68,169.93 516.38,169.68 517.08,169.43 517.78,169.19 518.48,168.94 519.18,168.69 519.88,168.44 520.58,168.19 521.28,167.94 521.98,167.68 522.68,167.43 523.38,167.18 524.08,166.92 524.78,166.66 525.48,166.41 526.18,166.15 526.88,165.89 527.58,165.63 528.28,165.37 528.98,165.10 529.68,164.84 530.38,164.57 531.01,164.33" fill="none" stroke="#1a5ff0" stroke-width="1.4" stroke-linejoin="round"/>
<polyline points="363.91,245.45 364.61,251.64 365.31,260.01 366.01,249.44 366.71,249.40 367.41,252.52 368.11,250.69 368.81,253.98 369.51,252.04 370.21,251.19 370.91,252.00 371.61,255.50 372.31,247.76 373.01,242.85 373.71,254.77 374.41,258.11 375.11,254.34 375.81,250.69 376.51,277.47 377.21,248.84 377.91,254.53 378.61,252.33 379.31,256.15 380.01,251.44 380.71,262.82 381.41,262.91 382.11,260.61 382.81,248.58 383.51,246.80 384.21,250.64 384.91,259.52 385.61,248.87 386.31,248.93 387.01,249.47 387.71,263.72 388.41,248.34 389.11,249.43 389.81,247.90 390.51,244.21 391.21,245.73 391.91,261.05 392.61,247.09 393.31,246.81 394.01,249.08 394.71,275.10 395.41,248.21 396.11,250.06 396.81,253.93 397.51,250.84 398.21,250.74 398.91,251.06 399.61,245.85 400.31,245.08 401.01,243.91 401.71,243.16 402.41,240.47 403.11,241.65 403.81,240.71 404.51,239.71 405.21,239.70 405.91,237.04 406.61,233.99 407.31,233.46 408.01,232.46 408.71,233.10 409.41,234.32 410.11,232.72 410.81,234.30 411.51,234.32 412.21,232.95 412.91,232.48 413.61,235.00 414.31,231.44 415.01,231.29 415.71,231.10 416.41,229.48 417.11,229.43 417.81,228.62 418.51,228.42 419.21,228.16 419.91,227.66 420.61,226.54 421.31,225.45 422.01,225.43 422.71,225.26 423.41,224.65 424.11,223.92 424.81,223.37 425.51,223.01 426.21,222.07 426.91,221.50 427.61,220.92 428.31,220.35 429.01,219.81 429.71,219.26 430.41,218.70 431.11,218.15 431.81,217.60 432.51,217.05 433.21,216.50 433.91,215.96 434.61,215.41 435.31,214.87 436.01,214.33 436.71,213.79 437.41,213.26 438.11,212.72 438.81,212.19 439.51,211.66 440.21,211.13 440.91,210.60 441.61,210.07 442.31,209.55 443.01,209.03 443.71,208.51 444.41,207.99 445.11,207.47 445.81,206.96 446.51,206.45 447.21,205.94 447.91,205.43 448.61,204.92 449.31,204.42 450.01,203.92 450.71,203.42 451.41,202.92 452.11,202.42 452.81,201.93 453.51,201.44 454.21,200.95 454.91,200.46 455.61,199.97 456.31,199.49 457.01,199.01 457.71,198.53 458.41,198.05 459.11,197.57 459.81,197.10 460.51,196.63 461.21,196.16 461.91,195.69 462.61,195.22 463.31,194.76 464.01,194.30 464.71,193.83 465.41,193.38 466.11,192.92 466.81,192.46 467.51,192.01 468.21,191.56 468.91,191.20 469.61,190.87 470.31,190.54 471.01,190.21 471.71,189.88 472.41,189.56 473.11,189.23 473.81,188.91 474.51,188.59 475.21,188.27 475.91,187.96 476.61,187.64 477.31,187.33 478.01,187.01 478.71,186.70 479.41,186.39 480.11,186.09 480.81,185.78 481.51,185.47 482.21,185.17 482.91,184.87 483.61,184.57 484.31,184.27 485.01,183.97 485.71,183.67 486.41,183.38 487.11,183.08 487.81,182.79 488.51,182.49 489.21,182.20 489.91,181.91 490.61,181.62 491.31,181.34 492.01,181.05 492.71,180.76 493.41,180.48 494.11,180.19 494.81,179.91 495.51,179.63 496.21,179.34 496.91,179.06 497.61,178.78 498.31,178.50 499.01,178.22 499.71,177.94 500.41,177.65 501.11,177.36 501.81,177.07 502.51,176.78 503.21,176.49 503.91,176.20 504.61,175.91 505.31,175.63 506.01,175.34 506.71,175.05 507.41,174.76 508.11,174.47 508.81,174.19 509.51,173.90 510.21,173.61 510.91,173.32 511.61,173.04 512.31,172.75 513.01,172.46 513.71,172.17 514.41,171.88 515.11,171.59 515.81,171.30 516.51,171.01 517.21,170.72 517.91,170.43 518.61,170.14 519.31,169.85 520.01,169.56 520.71,169.26 521.41,168.97 522.11,168.68 522.81,168.38 523.51,168.08 524.21,167.79 524.91,167.49 525.61,167.19 526.31,166.89 527.01,166.58 527.71,166.28 528.41,165.97 529.11,165.67 529.81,165.36 530.51,165.05 531.01,164.83" fill="none" stroke="#1a5ff0" stroke-width="1.4" stroke-dasharray="3.5 1.8 1.2 1.8" stroke-linejoin="round"/>
<polyline points="365.10,250.31 365.80,261.24 366.50,254.60 367.20,280.88 367.90,261.29 368.60,252.31 369.30,251.62 370.00,247.54 370.70,246.03 371.40,248.78 372.10,255.08 372.80,247.67 373.50,258.95 374.20,272.31 374.90,252.63 375.60,251.26 376.30,249.60 377.00,249.66 377.70,262.19 378.40,245.97 379.10,253.37 379.80,246.85 380.50,247.19 381.20,246.09 381.90,241.18 382.60,243.23 383.30,244.01 384.00,247.51 384.70,246.37 385.40,246.65 386.10,245.63 386.80,244.57 387.50,243.98 388.20,243.80 388.90,242.40 389.60,241.58 390.30,243.25 391.00,254.06 391.70,243.59 392.40,241.66 393.10,245.74 393.80,258.22 394.50,243.83 395.20,242.78 395.90,239.89 396.60,239.11 397.30,238.76 398.00,236.47 398.70,236.28 399.40,234.73 400.10,235.00 400.80,241.07 401.50,234.90 402.20,233.65 402.90,233.44 403.60,231.85 404.30,230.84 405.00,230.18 405.70,229.97 406.40,229.64 407.10,228.56 407.80,227.99 408.50,227.46 409.20,226.82 409.90,226.38 410.60,225.81 411.30,225.25 412.00,224.68 412.70,224.12 413.40,223.55 414.10,222.99 414.80,222.43 415.50,221.88 416.20,221.32 416.90,220.76 417.60,220.21 418.30,219.66 419.00,219.11 419.70,218.56 420.40,218.01 421.10,217.47 421.80,216.93 422.50,216.38 423.20,215.84 423.90,215.30 424.60,214.77 425.30,214.23 426.00,213.70 426.70,213.17 427.40,212.64 428.10,212.11 428.80,211.59 429.50,211.06 430.20,210.54 430.90,210.02 431.60,209.50 432.30,208.99 433.00,208.47 433.70,207.96 434.40,207.45 435.10,206.94 435.80,206.43 436.50,205.93 437.20,205.44 437.90,204.97 438.60,204.50 439.30,204.04 440.00,203.58 440.70,203.12 441.40,202.66 442.10,202.21 442.80,201.75 443.50,201.30 444.20,200.85 444.90,200.41 445.60,199.96 446.30,199.52 447.00,199.08 447.70,198.64 448.40,198.20 449.10,197.76 449.80,197.33 450.50,196.90 451.20,196.47 451.90,196.04 452.60,195.62 453.30,195.20 454.00,194.77 454.70,194.36 455.40,193.94 456.10,193.52 456.80,193.11 457.50,192.70 458.20,192.29 458.90,191.88 459.60,191.48 460.30,191.07 461.00,190.67 461.70,190.27 462.40,189.87 463.10,189.48 463.80,189.08 464.50,188.69 465.20,188.30 465.90,187.91 466.60,187.53 467.30,187.14 468.00,186.76 468.70,186.42 469.40,186.11 470.10,185.81 470.80,185.51 471.50,185.21 472.20,184.91 472.90,184.62 473.60,184.33 474.30,184.03 475.00,183.74 475.70,183.46 476.40,183.17 477.10,182.88 477.80,182.60 478.50,182.32 479.20,182.04 479.90,181.76 480.60,181.48 481.30,181.20 482.00,180.93 482.70,180.65 483.40,180.38 484.10,180.11 484.80,179.84 485.50,179.57 486.20,179.30 486.90,179.04 487.60,178.77 488.30,178.51 489.00,178.25 489.70,177.98 490.40,177.72 491.10,177.46 491.80,177.21 492.50,176.95 493.20,176.69 493.90,176.44 494.60,176.18 495.30,175.93 496.00,175.67 496.70,175.42 497.40,175.17 498.10,174.92 498.80,174.67 499.50,174.42 500.20,174.18 500.90,173.95 501.60,173.72 502.30,173.49 503.00,173.26 503.70,173.03 504.40,172.81 505.10,172.58 505.80,172.35 506.50,172.12 507.20,171.89 507.90,171.67 508.60,171.44 509.30,171.21 510.00,170.99 510.70,170.76 511.40,170.53 512.10,170.30 512.80,170.08 513.50,169.85 514.20,169.62 514.90,169.39 515.60,169.16 516.30,168.93 517.00,168.70 517.70,168.47 518.40,168.24 519.10,168.01 519.80,167.78 520.50,167.55 521.20,167.31 521.90,167.08 522.60,166.84 523.30,166.61 524.00,166.37 524.70,166.13 525.40,165.89 526.10,165.65 526.80,165.41 527.50,165.17 528.20,164.92 528.90,164.68 529.60,164.43 530.30,164.18 531.00,163.93" fill="none" stroke="#3cb06a" stroke-width="1.4" stroke-linejoin="round"/>
<polyline points="367.33,253.77 368.03,255.11 368.73,248.30 369.43,270.20 370.13,247.22 370.83,267.51 371.53,252.37 372.23,246.71 372.93,261.90 373.63,251.70 374.33,278.84 375.03,249.92 375.73,251.92 376.43,255.24 377.13,251.74 377.83,247.81 378.53,245.21 379.23,249.20 379.93,245.56 380.63,251.19 381.33,267.18 382.03,249.03 382.73,250.06 383.43,248.99 384.13,250.84 384.83,252.10 385.53,271.63 386.23,252.88 386.93,273.78 387.63,248.00 388.33,269.33 389.03,249.68 389.73,246.99 390.43,256.76 391.13,247.61 391.83,250.11 392.53,246.49 393.23,248.47 393.93,246.94 394.63,249.03 395.33,264.53 396.03,244.29 396.73,246.06 397.43,246.18 398.13,243.85 398.83,242.38 399.53,240.04 400.23,238.90 400.93,239.10 401.63,238.24 402.33,236.66 403.03,234.76 403.73,233.90 404.43,235.28 405.13,234.98 405.83,234.25 406.53,233.19 407.23,231.68 407.93,231.15 408.63,228.92 409.33,229.36 410.03,229.30 410.73,229.40 411.43,228.68 412.13,227.50 412.83,227.69 413.53,227.37 414.23,227.47 414.93,227.51 415.63,227.24 416.33,226.46 417.03,225.89 417.73,225.17 418.43,224.36 419.13,223.55 419.83,222.95 420.53,222.41 421.23,221.86 421.93,221.34 422.63,220.82 423.33,220.31 424.03,219.79 424.73,219.28 425.43,218.77 426.13,218.25 426.83,217.75 427.53,217.24 428.23,216.73 428.93,216.23 429.63,215.73 430.33,215.23 431.03,214.73 431.73,214.24 432.43,213.74 433.13,213.25 433.83,212.76 434.53,212.28 435.23,211.79 435.93,211.31 436.63,210.82 437.33,210.33 438.03,209.83 438.73,209.33 439.43,208.84 440.13,208.34 440.83,207.85 441.53,207.36 442.23,206.87 442.93,206.39 443.63,205.90 444.33,205.42 445.03,204.94 445.73,204.46 446.43,203.98 447.13,203.51 447.83,203.04 448.53,202.57 449.23,202.10 449.93,201.63 450.63,201.17 451.33,200.71 452.03,200.25 452.73,199.79 453.43,199.33 454.13,198.88 454.83,198.42 455.53,197.97 456.23,197.53 456.93,197.08 457.63,196.63 458.33,196.19 459.03,195.75 459.73,195.31 460.43,194.88 461.13,194.44 461.83,194.01 462.53,193.58 463.23,193.15 463.93,192.72 464.63,192.30 465.33,191.87 466.03,191.45 466.73,191.03 467.43,190.61 468.13,190.20 468.83,189.84 469.53,189.51 470.23,189.19 470.93,188.86 471.63,188.54 472.33,188.22 473.03,187.90 473.73,187.58 474.43,187.27 475.13,186.95 475.83,186.64 476.53,186.33 477.23,186.02 477.93,185.71 478.63,185.40 479.33,185.10 480.03,184.79 480.73,184.49 481.43,184.19 482.13,183.89 482.83,183.59 483.53,183.30 484.23,183.00 484.93,182.71 485.63,182.41 486.33,182.12 487.03,181.83 487.73,181.54 488.43,181.25 489.13,180.97 489.83,180.68 490.53,180.40 491.23,180.11 491.93,179.83 492.63,179.55 493.33,179.27 494.03,178.99 494.73,178.71 495.43,178.43 496.13,178.15 496.83,177.87 497.53,177.60 498.23,177.32 498.93,177.05 499.63,176.77 500.33,176.50 501.03,176.22 501.73,175.95 502.43,175.67 503.13,175.40 503.83,175.13 504.53,174.85 505.23,174.58 505.93,174.31 506.63,174.04 507.33,173.76 508.03,173.49 508.73,173.22 509.43,172.95 510.13,172.68 510.83,172.40 511.53,172.13 512.23,171.86 512.93,171.59 513.63,171.31 514.33,171.04 515.03,170.77 515.73,170.49 516.43,170.22 517.13,169.95 517.83,169.67 518.53,169.40 519.23,169.12 519.93,168.84 520.63,168.57 521.33,168.29 522.03,168.01 522.73,167.73 523.43,167.45 524.13,167.16 524.83,166.88 525.53,166.60 526.23,166.31 526.93,166.03 527.63,165.74 528.33,165.45 529.03,165.16 529.73,164.87 530.43,164.57 531.01,164.33" fill="none" stroke="#3cb06a" stroke-width="1.4" stroke-dasharray="3.5 1.8 1.2 1.8" stroke-linejoin="round"/>
<polyline points="362.26,248.09 362.96,251.85 363.66,272.02 364.36,249.56 365.06,249.27 365.76,254.18 366.46,252.36 367.16,251.78 367.86,251.42 368.56,247.54 369.26,247.66 369.96,266.14 370.66,247.85 371.36,249.29 372.06,251.95 372.76,270.06 373.46,252.61 374.16,249.47 374.86,249.52 375.56,246.86 376.26,248.02 376.96,268.31 377.66,257.66 378.36,245.77 379.06,243.63 379.76,243.85 380.46,244.01 381.16,246.04 381.86,244.16 382.56,243.81 383.26,258.66 383.96,241.99 384.66,240.42 385.36,238.80 386.06,241.33 386.76,245.11 387.46,240.08 388.16,240.12 388.86,239.69 389.56,238.95 390.26,239.30 390.96,237.56 391.66,237.22 392.36,236.30 393.06,236.52 393.76,235.48 394.46,235.11 395.16,234.67 395.86,233.94 396.56,233.41 397.26,232.53 397.96,232.19 398.66,231.36 399.36,230.58 400.06,229.91 400.76,229.34 401.46,228.76 402.16,228.19 402.86,227.62 403.56,227.05 404.26,226.48 404.96,225.92 405.66,225.35 406.36,224.83 407.06,224.31 407.76,223.80 408.46,223.28 409.16,222.76 409.86,222.25 410.56,221.74 411.26,221.23 411.96,220.72 412.66,220.21 413.36,219.70 414.06,219.20 414.76,218.69 415.46,218.19 416.16,217.69 416.86,217.19 417.56,216.69 418.26,216.20 418.96,215.70 419.66,215.21 420.36,214.72 421.06,214.23 421.76,213.74 422.46,213.26 423.16,212.77 423.86,212.29 424.56,211.81 425.26,211.33 425.96,210.85 426.66,210.38 427.36,209.90 428.06,209.43 428.76,208.96 429.46,208.49 430.16,208.03 430.86,207.56 431.56,207.10 432.26,206.64 432.96,206.18 433.66,205.72 434.36,205.27 435.06,204.82 435.76,204.37 436.46,203.92 437.16,203.46 437.86,203.00 438.56,202.53 439.26,202.07 439.96,201.61 440.66,201.15 441.36,200.69 442.06,200.24 442.76,199.78 443.46,199.33 444.16,198.88 444.86,198.43 445.56,197.99 446.26,197.54 446.96,197.10 447.66,196.66 448.36,196.23 449.06,195.79 449.76,195.36 450.46,194.93 451.16,194.50 451.86,194.07 452.56,193.65 453.26,193.22 453.96,192.80 454.66,192.38 455.36,191.96 456.06,191.55 456.76,191.14 457.46,190.72 458.16,190.31 458.86,189.91 459.56,189.50 460.26,189.10 460.96,188.70 461.66,188.30 462.36,187.90 463.06,187.50 463.76,187.11 464.46,186.72 465.16,186.32 465.86,185.94 466.56,185.55 467.26,185.16 467.96,184.78 468.66,184.43 469.36,184.12 470.06,183.82 470.76,183.51 471.46,183.21 472.16,182.91 472.86,182.61 473.56,182.31 474.26,182.01 474.96,181.72 475.66,181.43 476.36,181.14 477.06,180.85 477.76,180.56 478.46,180.27 479.16,179.98 479.86,179.70 480.56,179.42 481.26,179.14 481.96,178.86 482.66,178.58 483.36,178.30 484.06,178.03 484.76,177.75 485.46,177.48 486.16,177.21 486.86,176.94 487.56,176.67 488.26,176.40 488.96,176.13 489.66,175.86 490.36,175.60 491.06,175.34 491.76,175.07 492.46,174.81 493.16,174.55 493.86,174.29 494.56,174.03 495.26,173.77 495.96,173.51 496.66,173.26 497.36,173.00 498.06,172.75 498.76,172.49 499.46,172.24 500.16,171.97 500.86,171.71 501.56,171.45 502.26,171.18 502.96,170.92 503.66,170.66 504.36,170.40 505.06,170.13 505.76,169.87 506.46,169.61 507.16,169.35 507.86,169.09 508.56,168.83 509.26,168.57 509.96,168.31 510.66,168.05 511.36,167.79 512.06,167.52 512.76,167.26 513.46,167.00 514.16,166.74 514.86,166.48 515.56,166.22 516.26,165.95 516.96,165.69 517.66,165.43 518.36,165.16 519.06,164.90 519.76,164.63 520.46,164.37 521.16,164.10 521.86,163.83 522.56,163.56 523.26,163.29 523.96,163.02 524.66,162.75 525.36,162.48 526.06,162.20 526.76,161.93 527.46,161.65 528.16,161.37 528.86,161.10 529.56,160.81 530.26,160.53 530.96,160.25 531.01,160.23" fill="none" stroke="#a070ee" stroke-width="1.4" stroke-linejoin="round"/>
<polyline points="363.79,250.53 364.49,252.55 365.19,250.01 365.89,251.85 366.59,250.96 367.29,254.77 367.99,252.34 368.69,254.88 369.39,250.12 370.09,249.29 370.79,248.09 371.49,251.06 372.19,246.14 372.89,252.74 373.59,250.73 374.29,249.35 374.99,247.03 375.69,252.11 376.39,250.21 377.09,248.96 377.79,250.41 378.49,246.60 379.19,243.94 379.89,250.09 380.59,250.68 381.29,251.55 381.99,251.31 382.69,251.67 383.39,249.59 384.09,249.33 384.79,251.41 385.49,247.70 386.19,246.94 386.89,246.33 387.59,246.41 388.29,246.41 388.99,248.00 389.69,246.05 390.39,242.76 391.09,240.59 391.79,239.21 392.49,239.11 393.19,239.08 393.89,237.54 394.59,240.61 395.29,235.88 395.99,235.90 396.69,244.82 397.39,233.68 398.09,232.46 398.79,231.98 399.49,230.52 400.19,231.00 400.89,230.52 401.59,230.47 402.29,229.66 402.99,229.18 403.69,228.74 404.39,227.89 405.09,227.21 405.79,226.76 406.49,226.26 407.19,225.72 407.89,225.20 408.59,224.68 409.29,224.17 409.99,223.66 410.69,223.14 411.39,222.63 412.09,222.12 412.79,221.62 413.49,221.11 414.19,220.60 414.89,220.10 415.59,219.60 416.29,219.10 416.99,218.60 417.69,218.10 418.39,217.61 419.09,217.11 419.79,216.62 420.49,216.13 421.19,215.64 421.89,215.15 422.59,214.67 423.29,214.18 423.99,213.70 424.69,213.22 425.39,212.74 426.09,212.26 426.79,211.79 427.49,211.32 428.19,210.84 428.89,210.37 429.59,209.91 430.29,209.44 430.99,208.98 431.69,208.51 432.39,208.05 433.09,207.60 433.79,207.14 434.49,206.69 435.19,206.23 435.89,205.78 436.59,205.33 437.29,204.88 437.99,204.41 438.69,203.95 439.39,203.48 440.09,203.02 440.79,202.56 441.49,202.11 442.19,201.65 442.89,201.20 443.59,200.75 444.29,200.30 444.99,199.85 445.69,199.41 446.39,198.96 447.09,198.52 447.79,198.08 448.49,197.65 449.19,197.21 449.89,196.78 450.59,196.35 451.29,195.92 451.99,195.49 452.69,195.07 453.39,194.64 454.09,194.22 454.79,193.80 455.49,193.39 456.19,192.97 456.89,192.56 457.59,192.15 458.29,191.74 458.99,191.33 459.69,190.93 460.39,190.52 461.09,190.12 461.79,189.72 462.49,189.32 463.19,188.93 463.89,188.53 464.59,188.14 465.29,187.75 465.99,187.36 466.69,186.98 467.39,186.59 468.09,186.21 468.79,185.87 469.49,185.55 470.19,185.23 470.89,184.92 471.59,184.60 472.29,184.29 472.99,183.98 473.69,183.67 474.39,183.36 475.09,183.06 475.79,182.75 476.49,182.45 477.19,182.15 477.89,181.85 478.59,181.55 479.29,181.26 479.99,180.96 480.69,180.67 481.39,180.38 482.09,180.09 482.79,179.80 483.49,179.51 484.19,179.22 484.89,178.94 485.59,178.65 486.29,178.37 486.99,178.09 487.69,177.81 488.39,177.53 489.09,177.25 489.79,176.97 490.49,176.70 491.19,176.42 491.89,176.15 492.59,175.87 493.29,175.60 493.99,175.33 494.69,175.06 495.39,174.79 496.09,174.52 496.79,174.26 497.49,173.99 498.19,173.72 498.89,173.46 499.59,173.19 500.29,172.92 500.99,172.66 501.69,172.39 502.39,172.13 503.09,171.86 503.79,171.60 504.49,171.33 505.19,171.07 505.89,170.80 506.59,170.54 507.29,170.28 507.99,170.01 508.69,169.75 509.39,169.49 510.09,169.23 510.79,168.96 511.49,168.70 512.19,168.44 512.89,168.17 513.59,167.91 514.29,167.65 514.99,167.38 515.69,167.12 516.39,166.85 517.09,166.59 517.79,166.32 518.49,166.05 519.19,165.79 519.89,165.52 520.59,165.25 521.29,164.98 521.99,164.71 522.69,164.44 523.39,164.17 524.09,163.89 524.79,163.62 525.49,163.34 526.19,163.07 526.89,162.79 527.59,162.51 528.29,162.23 528.99,161.95 529.69,161.67 530.39,161.38 531.01,161.13" fill="none" stroke="#a070ee" stroke-width="1.4" stroke-dasharray="3.5 1.8 1.2 1.8" stroke-linejoin="round"/>
<polyline points="349.32,247.51 350.02,247.99 350.72,271.18 351.42,255.95 352.12,250.57 352.82,256.64 353.52,253.56 354.22,276.22 354.92,247.37 355.62,260.51 356.32,262.51 357.02,245.22 357.72,255.03 358.42,250.44 359.12,244.30 359.82,270.39 360.52,246.79 361.22,283.72 361.92,255.90 362.62,276.72 363.32,252.04 364.02,271.83 364.72,281.01 365.42,262.16 366.12,252.92 366.82,248.97 367.52,245.24 368.22,248.94 368.92,251.78 369.62,247.04 370.32,246.86 371.02,244.92 371.72,244.02 372.42,242.21 373.12,241.82 373.82,250.69 374.52,242.02 375.22,246.97 375.92,245.12 376.62,241.70 377.32,240.07 378.02,251.65 378.72,241.08 379.42,239.58 380.12,236.79 380.82,236.41 381.52,235.74 382.22,235.70 382.92,238.54 383.62,234.24 384.32,234.04 385.02,234.23 385.72,233.99 386.42,233.44 387.12,232.92 387.82,232.67 388.52,232.82 389.22,232.95 389.92,232.48 390.62,231.33 391.32,231.04 392.02,230.67 392.72,230.32 393.42,229.83 394.12,229.34 394.82,228.84 395.52,228.35 396.22,227.87 396.92,227.38 397.62,226.89 398.32,226.40 399.02,225.92 399.72,225.43 400.42,224.95 401.12,224.46 401.82,223.98 402.52,223.50 403.22,223.02 403.92,222.54 404.62,222.06 405.32,221.59 406.02,221.10 406.72,220.60 407.42,220.11 408.12,219.61 408.82,219.12 409.52,218.63 410.22,218.13 410.92,217.65 411.62,217.16 412.32,216.67 413.02,216.19 413.72,215.70 414.42,215.22 415.12,214.74 415.82,214.26 416.52,213.78 417.22,213.31 417.92,212.83 418.62,212.36 419.32,211.89 420.02,211.42 420.72,210.95 421.42,210.48 422.12,210.02 422.82,209.56 423.52,209.10 424.22,208.64 424.92,208.18 425.62,207.72 426.32,207.27 427.02,206.82 427.72,206.37 428.42,205.92 429.12,205.47 429.82,205.03 430.52,204.58 431.22,204.14 431.92,203.70 432.62,203.27 433.32,202.83 434.02,202.40 434.72,201.97 435.42,201.54 436.12,201.11 436.82,200.68 437.52,200.24 438.22,199.78 438.92,199.33 439.62,198.88 440.32,198.43 441.02,197.98 441.72,197.53 442.42,197.09 443.12,196.65 443.82,196.21 444.52,195.77 445.22,195.34 445.92,194.90 446.62,194.47 447.32,194.04 448.02,193.62 448.72,193.19 449.42,192.77 450.12,192.35 450.82,191.93 451.52,191.51 452.22,191.10 452.92,190.68 453.62,190.27 454.32,189.86 455.02,189.46 455.72,189.05 456.42,188.65 457.12,188.25 457.82,187.85 458.52,187.45 459.22,187.05 459.92,186.66 460.62,186.27 461.32,185.88 462.02,185.49 462.72,185.11 463.42,184.72 464.12,184.34 464.82,183.96 465.52,183.58 466.22,183.21 466.92,182.83 467.62,182.46 468.32,182.09 469.02,181.77 469.72,181.46 470.42,181.15 471.12,180.84 471.82,180.53 472.52,180.23 473.22,179.93 473.92,179.62 474.62,179.32 475.32,179.03 476.02,178.73 476.72,178.43 477.42,178.14 478.12,177.85 478.82,177.56 479.52,177.27 480.22,176.98 480.92,176.69 481.62,176.41 482.32,176.13 483.02,175.84 483.72,175.56 484.42,175.28 485.12,175.01 485.82,174.73 486.52,174.45 487.22,174.18 487.92,173.90 488.62,173.63 489.32,173.36 490.02,173.09 490.72,172.82 491.42,172.55 492.12,172.29 492.82,172.02 493.52,171.76 494.22,171.49 494.92,171.23 495.62,170.97 496.32,170.70 497.02,170.44 497.72,170.18 498.42,169.92 499.12,169.66 499.82,169.41 500.52,169.14 501.22,168.88 501.92,168.62 502.62,168.36 503.32,168.10 504.02,167.84 504.72,167.58 505.42,167.32 506.12,167.06 506.82,166.80 507.52,166.54 508.22,166.28 508.92,166.03 509.62,165.77 510.32,165.51 511.02,165.25 511.72,164.99 512.42,164.73 513.12,164.47 513.82,164.21 514.52,163.95 515.22,163.69 515.92,163.43 516.62,163.17 517.32,162.91 518.02,162.65 518.72,162.39 519.42,162.13 520.12,161.86 520.82,161.60 521.52,161.33 522.22,161.07 522.92,160.80 523.62,160.53 524.32,160.26 525.02,159.99 525.72,159.72 526.42,159.45 527.12,159.18 527.82,158.90 528.52,158.62 529.22,158.35 529.92,158.07 530.62,157.79 531.01,157.63" fill="none" stroke="#d39a12" stroke-width="1.4" stroke-linejoin="round"/>
<polyline points="351.55,261.07 352.25,255.67 352.95,255.38 353.65,284.00 354.35,259.77 355.05,266.75 355.75,251.43 356.45,243.61 357.15,251.68 357.85,264.53 358.55,272.84 359.25,271.86 359.95,249.85 360.65,256.30 361.35,256.43 362.05,251.76 362.75,253.34 363.45,265.44 364.15,260.91 364.85,250.85 365.55,264.29 366.25,250.01 366.95,260.96 367.65,255.99 368.35,280.56 369.05,246.65 369.75,249.62 370.45,271.35 371.15,250.96 371.85,267.81 372.55,254.40 373.25,247.74 373.95,243.73 374.65,263.97 375.35,243.60 376.05,239.25 376.75,238.90 377.45,252.10 378.15,237.62 378.85,239.56 379.55,238.29 380.25,243.00 380.95,257.58 381.65,249.88 382.35,238.33 383.05,239.77 383.75,249.80 384.45,238.43 385.15,237.70 385.85,237.31 386.55,235.62 387.25,243.70 387.95,236.04 388.65,234.86 389.35,234.62 390.05,233.58 390.75,233.71 391.45,232.88 392.15,232.70 392.85,231.71 393.55,231.64 394.25,230.98 394.95,230.68 395.65,234.12 396.35,229.19 397.05,228.86 397.75,228.31 398.45,227.71 399.15,227.16 399.85,226.65 400.55,226.02 401.25,225.51 401.95,225.01 402.65,224.51 403.35,224.00 404.05,223.50 404.75,223.00 405.45,222.50 406.15,222.01 406.85,221.51 407.55,221.01 408.25,220.52 408.95,220.03 409.65,219.53 410.35,219.04 411.05,218.55 411.75,218.07 412.45,217.58 413.15,217.10 413.85,216.61 414.55,216.13 415.25,215.65 415.95,215.17 416.65,214.69 417.35,214.22 418.05,213.74 418.75,213.27 419.45,212.80 420.15,212.33 420.85,211.86 421.55,211.40 422.25,210.93 422.95,210.47 423.65,210.01 424.35,209.55 425.05,209.09 425.75,208.64 426.45,208.19 427.15,207.73 427.85,207.28 428.55,206.84 429.25,206.39 429.95,205.94 430.65,205.50 431.35,205.06 432.05,204.62 432.75,204.19 433.45,203.75 434.15,203.32 434.85,202.89 435.55,202.46 436.25,202.03 436.95,201.60 437.65,201.14 438.35,200.68 439.05,200.22 439.75,199.77 440.45,199.31 441.15,198.86 441.85,198.41 442.55,197.96 443.25,197.51 443.95,197.06 444.65,196.62 445.35,196.18 446.05,195.74 446.75,195.30 447.45,194.86 448.15,194.43 448.85,194.00 449.55,193.57 450.25,193.14 450.95,192.72 451.65,192.29 452.35,191.87 453.05,191.45 453.75,191.04 454.45,190.62 455.15,190.21 455.85,189.80 456.55,189.39 457.25,188.98 457.95,188.57 458.65,188.17 459.35,187.77 460.05,187.37 460.75,186.97 461.45,186.57 462.15,186.18 462.85,185.79 463.55,185.40 464.25,185.01 464.95,184.62 465.65,184.24 466.35,183.85 467.05,183.47 467.75,183.09 468.45,182.73 469.15,182.42 469.85,182.12 470.55,181.82 471.25,181.52 471.95,181.22 472.65,180.93 473.35,180.63 474.05,180.34 474.75,180.05 475.45,179.76 476.15,179.47 476.85,179.19 477.55,178.90 478.25,178.62 478.95,178.34 479.65,178.06 480.35,177.78 481.05,177.50 481.75,177.23 482.45,176.95 483.15,176.68 483.85,176.41 484.55,176.14 485.25,175.87 485.95,175.60 486.65,175.34 487.35,175.07 488.05,174.81 488.75,174.54 489.45,174.28 490.15,174.02 490.85,173.76 491.55,173.50 492.25,173.24 492.95,172.99 493.65,172.73 494.35,172.48 495.05,172.22 495.75,171.97 496.45,171.71 497.15,171.46 497.85,171.21 498.55,170.96 499.25,170.71 499.95,170.46 500.65,170.19 501.35,169.93 502.05,169.66 502.75,169.40 503.45,169.14 504.15,168.88 504.85,168.61 505.55,168.35 506.25,168.09 506.95,167.83 507.65,167.57 508.35,167.31 509.05,167.05 509.75,166.79 510.45,166.53 511.15,166.27 511.85,166.00 512.55,165.74 513.25,165.48 513.95,165.22 514.65,164.96 515.35,164.70 516.05,164.43 516.75,164.17 517.45,163.91 518.15,163.64 518.85,163.38 519.55,163.11 520.25,162.85 520.95,162.58 521.65,162.31 522.35,162.04 523.05,161.77 523.75,161.50 524.45,161.23 525.15,160.96 525.85,160.69 526.55,160.41 527.25,160.14 527.95,159.86 528.65,159.58 529.35,159.30 530.05,159.02 530.75,158.74 531.01,158.63" fill="none" stroke="#d39a12" stroke-width="1.4" stroke-dasharray="3.5 1.8 1.2 1.8" stroke-linejoin="round"/>
<polyline points="343.34,277.35 344.04,252.81 344.74,266.40 345.44,258.44 346.14,259.44 346.84,272.90 347.54,265.69 348.24,250.25 348.94,250.44 349.64,251.12 350.34,248.04 351.04,265.56 351.74,247.90 352.44,262.39 353.14,259.55 353.84,244.92 354.54,245.42 355.24,249.25 355.94,244.62 356.64,244.04 357.34,241.74 358.04,268.10 358.74,242.48 359.44,243.14 360.14,240.73 360.84,239.74 361.54,240.56 362.24,241.21 362.94,239.36 363.64,250.77 364.34,240.00 365.04,237.96 365.74,254.78 366.44,251.42 367.14,237.90 367.84,236.35 368.54,243.21 369.24,234.30 369.94,241.41 370.64,236.71 371.34,234.23 372.04,235.17 372.74,234.75 373.44,243.87 374.14,234.12 374.84,233.43 375.54,232.42 376.24,231.80 376.94,232.19 377.64,231.89 378.34,231.65 379.04,230.84 379.74,230.31 380.44,229.83 381.14,229.24 381.84,228.60 382.54,228.05 383.24,227.54 383.94,227.05 384.64,226.56 385.34,226.06 386.04,225.57 386.74,225.08 387.44,224.58 388.14,224.09 388.84,223.60 389.54,223.11 390.24,222.61 390.94,222.12 391.64,221.63 392.34,221.14 393.04,220.65 393.74,220.16 394.44,219.67 395.14,219.19 395.84,218.70 396.54,218.21 397.24,217.73 397.94,217.24 398.64,216.76 399.34,216.27 400.04,215.79 400.74,215.31 401.44,214.83 402.14,214.35 402.84,213.87 403.54,213.39 404.24,212.91 404.94,212.44 405.64,211.97 406.34,211.47 407.04,210.98 407.74,210.49 408.44,210.00 409.14,209.51 409.84,209.03 410.54,208.54 411.24,208.06 411.94,207.57 412.64,207.09 413.34,206.61 414.04,206.13 414.74,205.66 415.44,205.18 416.14,204.71 416.84,204.23 417.54,203.76 418.24,203.29 418.94,202.83 419.64,202.36 420.34,201.90 421.04,201.43 421.74,200.97 422.44,200.51 423.14,200.06 423.84,199.60 424.54,199.15 425.24,198.69 425.94,198.24 426.64,197.79 427.34,197.35 428.04,196.90 428.74,196.46 429.44,196.02 430.14,195.58 430.84,195.14 431.54,194.70 432.24,194.27 432.94,193.84 433.64,193.41 434.34,192.98 435.04,192.56 435.74,192.13 436.44,191.71 437.14,191.29 437.84,190.86 438.54,190.43 439.24,190.00 439.94,189.58 440.64,189.16 441.34,188.74 442.04,188.32 442.74,187.91 443.44,187.49 444.14,187.08 444.84,186.67 445.54,186.26 446.24,185.86 446.94,185.46 447.64,185.05 448.34,184.65 449.04,184.26 449.74,183.86 450.44,183.47 451.14,183.08 451.84,182.69 452.54,182.30 453.24,181.92 453.94,181.53 454.64,181.15 455.34,180.77 456.04,180.39 456.74,180.02 457.44,179.64 458.14,179.27 458.84,178.90 459.54,178.54 460.24,178.17 460.94,177.81 461.64,177.44 462.34,177.08 463.04,176.73 463.74,176.37 464.44,176.02 465.14,175.66 465.84,175.31 466.54,174.96 467.24,174.62 467.94,174.27 468.64,173.93 469.34,173.59 470.04,173.25 470.74,172.91 471.44,172.58 472.14,172.25 472.84,171.92 473.54,171.59 474.24,171.26 474.94,170.93 475.64,170.61 476.34,170.29 477.04,169.97 477.74,169.65 478.44,169.33 479.14,169.01 479.84,168.69 480.54,168.38 481.24,168.07 481.94,167.76 482.64,167.45 483.34,167.14 484.04,166.83 484.74,166.53 485.44,166.22 486.14,165.92 486.84,165.62 487.54,165.32 488.24,165.02 488.94,164.72 489.64,164.42 490.34,164.12 491.04,163.83 491.74,163.53 492.44,163.24 493.14,162.95 493.84,162.66 494.54,162.37 495.24,162.08 495.94,161.79 496.64,161.50 497.34,161.21 498.04,160.93 498.74,160.64 499.44,160.35 500.14,160.08 500.84,159.82 501.54,159.55 502.24,159.29 502.94,159.03 503.64,158.77 504.34,158.50 505.04,158.24 505.74,157.98 506.44,157.72 507.14,157.46 507.84,157.20 508.54,156.94 509.24,156.68 509.94,156.42 510.64,156.15 511.34,155.89 512.04,155.63 512.74,155.37 513.44,155.11 514.14,154.85 514.84,154.59 515.54,154.32 516.24,154.06 516.94,153.80 517.64,153.53 518.34,153.27 519.04,153.01 519.74,152.74 520.44,152.47 521.14,152.21 521.84,151.94 522.54,151.67 523.24,151.40 523.94,151.13 524.64,150.86 525.34,150.59 526.04,150.31 526.74,150.04 527.44,149.76 528.14,149.48 528.84,149.20 529.54,148.92 530.24,148.64 530.94,148.36 531.01,148.33" fill="none" stroke="#22c8c8" stroke-width="1.4" stroke-linejoin="round"/>
<polyline points="345.57,251.57 346.27,247.22 346.97,269.18 347.67,248.06 348.37,266.20 349.07,258.50 349.77,247.42 350.47,262.03 351.17,249.61 351.87,246.58 352.57,251.45 353.27,252.13 353.97,250.68 354.67,252.09 355.37,250.40 356.07,249.02 356.77,247.52 357.47,249.12 358.17,264.30 358.87,253.13 359.57,249.00 360.27,258.08 360.97,275.15 361.67,248.67 362.37,257.87 363.07,248.37 363.77,247.78 364.47,246.76 365.17,255.87 365.87,236.29 366.57,235.21 367.27,234.89 367.97,233.93 368.67,235.10 369.37,250.74 370.07,234.88 370.77,233.50 371.47,245.94 372.17,236.69 372.87,236.68 373.57,237.88 374.27,236.65 374.97,250.33 375.67,249.88 376.37,236.97 377.07,236.06 377.77,235.55 378.47,234.46 379.17,234.33 379.87,233.09 380.57,232.22 381.27,231.06 381.97,229.82 382.67,229.35 383.37,229.03 384.07,232.57 384.77,228.14 385.47,227.33 386.17,226.66 386.87,226.31 387.57,229.80 388.27,227.53 388.97,225.90 389.67,225.33 390.37,224.93 391.07,224.53 391.77,224.04 392.47,223.55 393.17,223.06 393.87,222.57 394.57,222.08 395.27,221.59 395.97,221.11 396.67,220.62 397.37,220.13 398.07,219.65 398.77,219.17 399.47,218.68 400.17,218.20 400.87,217.72 401.57,217.24 402.27,216.76 402.97,216.28 403.67,215.80 404.37,215.33 405.07,214.85 405.77,214.38 406.47,213.89 407.17,213.40 407.87,212.91 408.57,212.43 409.27,211.94 409.97,211.46 410.67,210.98 411.37,210.50 412.07,210.02 412.77,209.55 413.47,209.07 414.17,208.60 414.87,208.13 415.57,207.66 416.27,207.19 416.97,206.72 417.67,206.25 418.37,205.79 419.07,205.33 419.77,204.86 420.47,204.40 421.17,203.95 421.87,203.49 422.57,203.04 423.27,202.58 423.97,202.13 424.67,201.68 425.37,201.24 426.07,200.79 426.77,200.35 427.47,199.90 428.17,199.46 428.87,199.03 429.57,198.59 430.27,198.15 430.97,197.72 431.67,197.29 432.37,196.86 433.07,196.43 433.77,196.01 434.47,195.59 435.17,195.16 435.87,194.75 436.57,194.33 437.27,193.90 437.97,193.46 438.67,193.02 439.37,192.58 440.07,192.14 440.77,191.71 441.47,191.28 442.17,190.85 442.87,190.42 443.57,189.99 444.27,189.57 444.97,189.14 445.67,188.72 446.37,188.30 447.07,187.89 447.77,187.47 448.47,187.06 449.17,186.65 449.87,186.24 450.57,185.84 451.27,185.43 451.97,185.03 452.67,184.63 453.37,184.23 454.07,183.83 454.77,183.44 455.47,183.05 456.17,182.66 456.87,182.27 457.57,181.88 458.27,181.50 458.97,181.11 459.67,180.73 460.37,180.35 461.07,179.98 461.77,179.60 462.47,179.23 463.17,178.86 463.87,178.49 464.57,178.12 465.27,177.76 465.97,177.39 466.67,177.03 467.37,176.67 468.07,176.31 468.77,175.96 469.47,175.62 470.17,175.28 470.87,174.94 471.57,174.60 472.27,174.26 472.97,173.93 473.67,173.59 474.37,173.26 475.07,172.93 475.77,172.60 476.47,172.27 477.17,171.95 477.87,171.63 478.57,171.30 479.27,170.98 479.97,170.66 480.67,170.34 481.37,170.03 482.07,169.71 482.77,169.40 483.47,169.09 484.17,168.77 484.87,168.46 485.57,168.16 486.27,167.85 486.97,167.54 487.67,167.24 488.37,166.93 489.07,166.63 489.77,166.33 490.47,166.03 491.17,165.73 491.87,165.43 492.57,165.13 493.27,164.84 493.97,164.54 494.67,164.25 495.37,163.95 496.07,163.66 496.77,163.37 497.47,163.07 498.17,162.78 498.87,162.49 499.57,162.20 500.27,161.92 500.97,161.65 501.67,161.37 502.37,161.10 503.07,160.83 503.77,160.55 504.47,160.28 505.17,160.01 505.87,159.73 506.57,159.46 507.27,159.19 507.97,158.92 508.67,158.64 509.37,158.37 510.07,158.10 510.77,157.83 511.47,157.56 512.17,157.28 512.87,157.01 513.57,156.74 514.27,156.47 514.97,156.19 515.67,155.92 516.37,155.65 517.07,155.37 517.77,155.10 518.47,154.82 519.17,154.54 519.87,154.27 520.57,153.99 521.27,153.71 521.97,153.43 522.67,153.15 523.37,152.87 524.07,152.59 524.77,152.31 525.47,152.02 526.17,151.74 526.87,151.45 527.57,151.16 528.27,150.87 528.97,150.58 529.67,150.29 530.37,150.00 531.01,149.73" fill="none" stroke="#22c8c8" stroke-width="1.4" stroke-dasharray="3.5 1.8 1.2 1.8" stroke-linejoin="round"/>
<polyline points="343.63,246.56 344.33,246.18 345.03,244.92 345.73,247.47 346.43,240.81 347.13,243.17 347.83,248.09 348.53,242.58 349.23,242.03 349.93,242.94 350.63,250.16 351.33,242.44 352.03,243.62 352.73,243.18 353.43,243.26 354.13,241.24 354.83,239.57 355.53,238.20 356.23,238.86 356.93,237.16 357.63,235.62 358.33,236.88 359.03,237.63 359.73,237.69 360.43,235.85 361.13,235.46 361.83,234.68 362.53,233.99 363.23,234.02 363.93,233.28 364.63,233.83 365.33,233.32 366.03,235.71 366.73,233.12 367.43,232.66 368.13,232.04 368.83,231.90 369.53,230.35 370.23,229.56 370.93,228.79 371.63,228.22 372.33,227.72 373.03,227.23 373.73,226.73 374.43,226.24 375.13,225.75 375.83,225.26 376.53,224.76 377.23,224.27 377.93,223.77 378.63,223.28 379.33,222.78 380.03,222.29 380.73,221.79 381.43,221.30 382.13,220.80 382.83,220.31 383.53,219.81 384.23,219.31 384.93,218.82 385.63,218.32 386.33,217.83 387.03,217.33 387.73,216.84 388.43,216.34 389.13,215.85 389.83,215.35 390.53,214.86 391.23,214.37 391.93,213.87 392.63,213.38 393.33,212.89 394.03,212.40 394.73,211.91 395.43,211.42 396.13,210.93 396.83,210.44 397.53,209.95 398.23,209.46 398.93,208.98 399.63,208.49 400.33,208.01 401.03,207.52 401.73,207.04 402.43,206.56 403.13,206.08 403.83,205.60 404.53,205.12 405.23,204.64 405.93,204.17 406.63,203.69 407.33,203.22 408.03,202.75 408.73,202.28 409.43,201.81 410.13,201.34 410.83,200.87 411.53,200.41 412.23,199.94 412.93,199.48 413.63,199.02 414.33,198.56 415.03,198.10 415.73,197.64 416.43,197.19 417.13,196.73 417.83,196.28 418.53,195.83 419.23,195.38 419.93,194.93 420.63,194.49 421.33,194.04 422.03,193.60 422.73,193.16 423.43,192.72 424.13,192.28 424.83,191.85 425.53,191.41 426.23,190.98 426.93,190.55 427.63,190.12 428.33,189.70 429.03,189.27 429.73,188.85 430.43,188.43 431.13,188.01 431.83,187.59 432.53,187.18 433.23,186.76 433.93,186.35 434.63,185.94 435.33,185.54 436.03,185.13 436.73,184.73 437.43,184.33 438.13,183.93 438.83,183.53 439.53,183.13 440.23,182.74 440.93,182.35 441.63,181.96 442.33,181.57 443.03,181.18 443.73,180.80 444.43,180.42 445.13,180.04 445.83,179.66 446.53,179.29 447.23,178.91 447.93,178.54 448.63,178.17 449.33,177.80 450.03,177.44 450.73,177.08 451.43,176.71 452.13,176.35 452.83,176.00 453.53,175.64 454.23,175.29 454.93,174.94 455.63,174.59 456.33,174.24 457.03,173.89 457.73,173.55 458.43,173.21 459.13,172.87 459.83,172.53 460.53,172.20 461.23,171.86 461.93,171.53 462.63,171.20 463.33,170.87 464.03,170.54 464.73,170.22 465.43,169.90 466.13,169.58 466.83,169.26 467.53,168.94 468.23,168.62 468.93,168.31 469.63,168.00 470.33,167.69 471.03,167.38 471.73,167.07 472.43,166.77 473.13,166.46 473.83,166.16 474.53,165.86 475.23,165.56 475.93,165.27 476.63,164.97 477.33,164.68 478.03,164.38 478.73,164.09 479.43,163.80 480.13,163.52 480.83,163.23 481.53,162.94 482.23,162.66 482.93,162.38 483.63,162.10 484.33,161.82 485.03,161.54 485.73,161.26 486.43,160.99 487.13,160.71 487.83,160.44 488.53,160.17 489.23,159.89 489.93,159.62 490.63,159.36 491.33,159.09 492.03,158.82 492.73,158.55 493.43,158.29 494.13,158.02 494.83,157.76 495.53,157.50 496.23,157.24 496.93,156.98 497.63,156.72 498.33,156.46 499.03,156.20 499.73,155.94 500.43,155.68 501.13,155.42 501.83,155.17 502.53,154.91 503.23,154.65 503.93,154.40 504.63,154.14 505.33,153.89 506.03,153.63 506.73,153.38 507.43,153.12 508.13,152.87 508.83,152.62 509.53,152.36 510.23,152.11 510.93,151.85 511.63,151.60 512.33,151.35 513.03,151.09 513.73,150.84 514.43,150.58 515.13,150.33 515.83,150.07 516.53,149.81 517.23,149.56 517.93,149.30 518.63,149.04 519.33,148.78 520.03,148.52 520.73,148.26 521.43,148.00 522.13,147.74 522.83,147.48 523.53,147.22 524.23,146.95 524.93,146.69 525.63,146.42 526.33,146.15 527.03,145.88 527.73,145.61 528.43,145.34 529.13,145.07 529.83,144.80 530.53,144.52 531.01,144.33" fill="none" stroke="#5a8ad6" stroke-width="1.4" stroke-linejoin="round"/>
<polyline points="345.16,246.79 345.86,247.03 346.56,245.35 347.26,251.74 347.96,248.72 348.66,249.57 349.36,247.57 350.06,250.62 350.76,249.35 351.46,242.44 352.16,259.18 352.86,242.00 353.56,241.02 354.26,242.33 354.96,240.59 355.66,239.05 356.36,238.01 357.06,241.35 357.76,239.39 358.46,238.06 359.16,238.91 359.86,246.84 360.56,240.32 361.26,240.58 361.96,239.52 362.66,250.29 363.36,238.18 364.06,238.01 364.76,249.79 365.46,238.98 366.16,237.07 366.86,236.47 367.56,235.43 368.26,235.30 368.96,235.47 369.66,234.50 370.36,238.53 371.06,234.64 371.76,232.73 372.46,231.95 373.16,231.05 373.86,230.15 374.56,229.76 375.26,228.81 375.96,227.93 376.66,227.49 377.36,227.09 378.06,226.95 378.76,226.80 379.46,226.35 380.16,225.89 380.86,225.57 381.56,224.98 382.26,224.47 382.96,224.04 383.66,223.54 384.36,223.03 385.06,222.52 385.76,222.01 386.46,221.50 387.16,220.99 387.86,220.49 388.56,219.98 389.26,219.47 389.96,218.96 390.66,218.45 391.36,217.95 392.06,217.44 392.76,216.94 393.46,216.43 394.16,215.93 394.86,215.42 395.56,214.92 396.26,214.42 396.96,213.91 397.66,213.41 398.36,212.91 399.06,212.41 399.76,211.91 400.46,211.42 401.16,210.92 401.86,210.42 402.56,209.93 403.26,209.44 403.96,208.94 404.66,208.45 405.36,207.96 406.06,207.48 406.76,207.02 407.46,206.55 408.16,206.09 408.86,205.63 409.56,205.17 410.26,204.71 410.96,204.25 411.66,203.80 412.36,203.34 413.06,202.89 413.76,202.43 414.46,201.98 415.16,201.53 415.86,201.09 416.56,200.64 417.26,200.20 417.96,199.75 418.66,199.31 419.36,198.87 420.06,198.43 420.76,198.00 421.46,197.56 422.16,197.13 422.86,196.70 423.56,196.27 424.26,195.84 424.96,195.41 425.66,194.99 426.36,194.57 427.06,194.15 427.76,193.73 428.46,193.31 429.16,192.89 429.86,192.48 430.56,192.07 431.26,191.66 431.96,191.25 432.66,190.85 433.36,190.44 434.06,190.04 434.76,189.64 435.46,189.24 436.16,188.84 436.86,188.45 437.56,188.03 438.26,187.61 438.96,187.19 439.66,186.78 440.36,186.36 441.06,185.95 441.76,185.53 442.46,185.12 443.16,184.72 443.86,184.31 444.56,183.91 445.26,183.51 445.96,183.11 446.66,182.71 447.36,182.31 448.06,181.92 448.76,181.53 449.46,181.14 450.16,180.75 450.86,180.37 451.56,179.98 452.26,179.60 452.96,179.22 453.66,178.84 454.36,178.47 455.06,178.10 455.76,177.72 456.46,177.35 457.16,176.99 457.86,176.62 458.56,176.26 459.26,175.90 459.96,175.54 460.66,175.18 461.36,174.82 462.06,174.47 462.76,174.12 463.46,173.77 464.16,173.42 464.86,173.07 465.56,172.73 466.26,172.38 466.96,172.04 467.66,171.70 468.36,171.36 469.06,171.03 469.76,170.69 470.46,170.36 471.16,170.03 471.86,169.70 472.56,169.38 473.26,169.05 473.96,168.73 474.66,168.40 475.36,168.08 476.06,167.76 476.76,167.45 477.46,167.13 478.16,166.82 478.86,166.50 479.56,166.19 480.26,165.88 480.96,165.57 481.66,165.27 482.36,164.96 483.06,164.66 483.76,164.35 484.46,164.05 485.16,163.75 485.86,163.45 486.56,163.15 487.26,162.86 487.96,162.56 488.66,162.27 489.36,161.97 490.06,161.68 490.76,161.39 491.46,161.10 492.16,160.81 492.86,160.52 493.56,160.24 494.26,159.95 494.96,159.66 495.66,159.38 496.36,159.09 497.06,158.81 497.76,158.53 498.46,158.25 499.16,157.97 499.86,157.69 500.56,157.42 501.26,157.15 501.96,156.88 502.66,156.61 503.36,156.35 504.06,156.08 504.76,155.81 505.46,155.55 506.16,155.28 506.86,155.02 507.56,154.75 508.26,154.49 508.96,154.22 509.66,153.96 510.36,153.69 511.06,153.43 511.76,153.16 512.46,152.89 513.16,152.63 513.86,152.36 514.56,152.10 515.26,151.83 515.96,151.56 516.66,151.30 517.36,151.03 518.06,150.76 518.76,150.49 519.46,150.22 520.16,149.95 520.86,149.68 521.56,149.41 522.26,149.13 522.96,148.86 523.66,148.59 524.36,148.31 525.06,148.03 525.76,147.75 526.46,147.48 527.16,147.20 527.86,146.91 528.56,146.63 529.26,146.35 529.96,146.06 530.66,145.77 531.01,145.63" fill="none" stroke="#5a8ad6" stroke-width="1.4" stroke-dasharray="3.5 1.8 1.2 1.8" stroke-linejoin="round"/>
<line x1="342.6" y1="244" x2="342.6" y2="256" stroke="#ee2f2f" stroke-width="1.3"/>
<line x1="347.9" y1="262" x2="347.9" y2="305.6" stroke="#5a8ad6" stroke-width="1.3" stroke-dasharray="3.5 1.8 1.2 1.8"/>
<line x1="344.2" y1="250" x2="344.2" y2="281" stroke="#22c6c6" stroke-width="1.3"/>
<line x1="369.4" y1="255" x2="369.4" y2="294.4" stroke="#1f5fe8" stroke-width="1.3"/>
<line x1="368.3" y1="255" x2="368.3" y2="289" stroke="#ee2f2f" stroke-width="1.3"/>
<line x1="375.7" y1="255" x2="375.7" y2="309" stroke="#a066ea" stroke-width="1.3" stroke-dasharray="3.5 1.8 1.2 1.8"/>
<line x1="380.6" y1="258" x2="380.6" y2="286.7" stroke="#35a862" stroke-width="1.3" stroke-dasharray="3.5 1.8 1.2 1.8"/>
<line x1="385.0" y1="256" x2="385.0" y2="281" stroke="#a066ea" stroke-width="1.3" stroke-dasharray="3.5 1.8 1.2 1.8"/>
<line x1="395.0" y1="255" x2="395.0" y2="277.8" stroke="#ee2f2f" stroke-width="1.3" stroke-dasharray="3.5 1.8 1.2 1.8"/>
<line x1="402.8" y1="252" x2="402.8" y2="297.8" stroke="#262626" stroke-width="1.3" stroke-dasharray="3.5 1.8 1.2 1.8"/>
<line x1="457.5" y1="228.7" x2="435.0" y2="176.0" stroke="#111" stroke-width="1.2"/>
<polygon points="433.2,171.9 433.9,177.9 437.3,176.5" fill="#111"/>
<line x1="495.3" y1="201.20" x2="507.5" y2="201.20" stroke="#262626" stroke-width="1.4"/>
<text x="508.3" y="202.80" font-family="'Liberation Serif', serif" font-size="4.9" fill="#555" stroke="#555" stroke-width="0.12">#1@PGM</text>
<line x1="495.3" y1="207.82" x2="507.5" y2="207.82" stroke="#262626" stroke-width="1.4" stroke-dasharray="5 4.2 1.4 5"/>
<text x="508.3" y="209.42" font-family="'Liberation Serif', serif" font-size="4.9" fill="#555" stroke="#555" stroke-width="0.12">#1@ERS</text>
<line x1="495.3" y1="214.44" x2="507.5" y2="214.44" stroke="#ee3030" stroke-width="1.4"/>
<text x="508.3" y="216.04" font-family="'Liberation Serif', serif" font-size="4.9" fill="#555" stroke="#555" stroke-width="0.12">#10@PGM</text>
<line x1="495.3" y1="221.06" x2="507.5" y2="221.06" stroke="#ee3030" stroke-width="1.4" stroke-dasharray="5 4.2 1.4 5"/>
<text x="508.3" y="222.66" font-family="'Liberation Serif', serif" font-size="4.9" fill="#555" stroke="#555" stroke-width="0.12">#10@ERS</text>
<line x1="495.3" y1="227.68" x2="507.5" y2="227.68" stroke="#1a5ff0" stroke-width="1.4"/>
<text x="508.3" y="229.28" font-family="'Liberation Serif', serif" font-size="4.9" fill="#555" stroke="#555" stroke-width="0.12">#10<tspan font-size="2.8" dy="-1.3">2</tspan><tspan dy="1.3">@PGM</tspan></text>
<line x1="495.3" y1="234.30" x2="507.5" y2="234.30" stroke="#1a5ff0" stroke-width="1.4" stroke-dasharray="5 4.2 1.4 5"/>
<text x="508.3" y="235.90" font-family="'Liberation Serif', serif" font-size="4.9" fill="#555" stroke="#555" stroke-width="0.12">#10<tspan font-size="2.8" dy="-1.3">2</tspan><tspan dy="1.3">@ERS</tspan></text>
<line x1="495.3" y1="240.92" x2="507.5" y2="240.92" stroke="#3cb06a" stroke-width="1.4"/>
<text x="508.3" y="242.52" font-family="'Liberation Serif', serif" font-size="4.9" fill="#555" stroke="#555" stroke-width="0.12">#10<tspan font-size="2.8" dy="-1.3">3</tspan><tspan dy="1.3">@PGM</tspan></text>
<line x1="495.3" y1="247.54" x2="507.5" y2="247.54" stroke="#3cb06a" stroke-width="1.4" stroke-dasharray="5 4.2 1.4 5"/>
<text x="508.3" y="249.14" font-family="'Liberation Serif', serif" font-size="4.9" fill="#555" stroke="#555" stroke-width="0.12">#10<tspan font-size="2.8" dy="-1.3">3</tspan><tspan dy="1.3">@ERS</tspan></text>
<line x1="495.3" y1="254.16" x2="507.5" y2="254.16" stroke="#a070ee" stroke-width="1.4"/>
<text x="508.3" y="255.76" font-family="'Liberation Serif', serif" font-size="4.9" fill="#555" stroke="#555" stroke-width="0.12">#5&#215;10<tspan font-size="2.8" dy="-1.3">3</tspan><tspan dy="1.3">@PGM</tspan></text>
<line x1="495.3" y1="260.78" x2="507.5" y2="260.78" stroke="#a070ee" stroke-width="1.4" stroke-dasharray="5 4.2 1.4 5"/>
<text x="508.3" y="262.38" font-family="'Liberation Serif', serif" font-size="4.9" fill="#555" stroke="#555" stroke-width="0.12">#5&#215;10<tspan font-size="2.8" dy="-1.3">3</tspan><tspan dy="1.3">@ERS</tspan></text>
<line x1="495.3" y1="267.40" x2="507.5" y2="267.40" stroke="#d39a12" stroke-width="1.4"/>
<text x="508.3" y="269.00" font-family="'Liberation Serif', serif" font-size="4.9" fill="#555" stroke="#555" stroke-width="0.12">#10<tspan font-size="2.8" dy="-1.3">4</tspan><tspan dy="1.3">@PGM</tspan></text>
<line x1="495.3" y1="274.02" x2="507.5" y2="274.02" stroke="#d39a12" stroke-width="1.4" stroke-dasharray="5 4.2 1.4 5"/>
<text x="508.3" y="275.62" font-family="'Liberation Serif', serif" font-size="4.9" fill="#555" stroke="#555" stroke-width="0.12">#10<tspan font-size="2.8" dy="-1.3">4</tspan><tspan dy="1.3">@ERS</tspan></text>
<line x1="495.3" y1="280.64" x2="507.5" y2="280.64" stroke="#22c8c8" stroke-width="1.4"/>
<text x="508.3" y="282.24" font-family="'Liberation Serif', serif" font-size="4.9" fill="#555" stroke="#555" stroke-width="0.12">#5&#215;10<tspan font-size="2.8" dy="-1.3">4</tspan><tspan dy="1.3">@PGM</tspan></text>
<line x1="495.3" y1="287.26" x2="507.5" y2="287.26" stroke="#22c8c8" stroke-width="1.4" stroke-dasharray="5 4.2 1.4 5"/>
<text x="508.3" y="288.86" font-family="'Liberation Serif', serif" font-size="4.9" fill="#555" stroke="#555" stroke-width="0.12">#5&#215;10<tspan font-size="2.8" dy="-1.3">4</tspan><tspan dy="1.3">@ERS</tspan></text>
<line x1="495.3" y1="293.88" x2="507.5" y2="293.88" stroke="#5a8ad6" stroke-width="1.4"/>
<text x="508.3" y="295.48" font-family="'Liberation Serif', serif" font-size="4.9" fill="#555" stroke="#555" stroke-width="0.12">#10<tspan font-size="2.8" dy="-1.3">5</tspan><tspan dy="1.3">@PGM</tspan></text>
<line x1="495.3" y1="300.50" x2="507.5" y2="300.50" stroke="#5a8ad6" stroke-width="1.4" stroke-dasharray="5 4.2 1.4 5"/>
<text x="508.3" y="302.10" font-family="'Liberation Serif', serif" font-size="4.9" fill="#555" stroke="#555" stroke-width="0.12">#10<tspan font-size="2.8" dy="-1.3">5</tspan><tspan dy="1.3">@ERS</tspan></text>
<rect x="327.4" y="138.6" width="218.50" height="171.90" fill="none" stroke="#333333" stroke-width="1.2"/>
<line x1="324.59999999999997" y1="310.39" x2="327.4" y2="310.39" stroke="#333333" stroke-width="1"/>
<text x="318.4" y="313.89" font-family="'Liberation Serif', serif" font-size="7.5" fill="#1a1a1a" text-anchor="end" stroke="#1a1a1a">10</text>
<text x="318.6" y="310.89" font-family="'Liberation Serif', serif" font-size="4.1" fill="#1a1a1a" stroke="#1a1a1a">&#8722;7</text>
<line x1="324.59999999999997" y1="288.12" x2="327.4" y2="288.12" stroke="#333333" stroke-width="1"/>
<text x="318.4" y="291.62" font-family="'Liberation Serif', serif" font-size="7.5" fill="#1a1a1a" text-anchor="end" stroke="#1a1a1a">10</text>
<text x="318.6" y="288.62" font-family="'Liberation Serif', serif" font-size="4.1" fill="#1a1a1a" stroke="#1a1a1a">&#8722;6</text>
<line x1="324.59999999999997" y1="265.85" x2="327.4" y2="265.85" stroke="#333333" stroke-width="1"/>
<text x="318.4" y="269.35" font-family="'Liberation Serif', serif" font-size="7.5" fill="#1a1a1a" text-anchor="end" stroke="#1a1a1a">10</text>
<text x="318.6" y="266.35" font-family="'Liberation Serif', serif" font-size="4.1" fill="#1a1a1a" stroke="#1a1a1a">&#8722;5</text>
<line x1="324.59999999999997" y1="243.58" x2="327.4" y2="243.58" stroke="#333333" stroke-width="1"/>
<text x="318.4" y="247.08" font-family="'Liberation Serif', serif" font-size="7.5" fill="#1a1a1a" text-anchor="end" stroke="#1a1a1a">10</text>
<text x="318.6" y="244.08" font-family="'Liberation Serif', serif" font-size="4.1" fill="#1a1a1a" stroke="#1a1a1a">&#8722;4</text>
<line x1="324.59999999999997" y1="221.31" x2="327.4" y2="221.31" stroke="#333333" stroke-width="1"/>
<text x="318.4" y="224.81" font-family="'Liberation Serif', serif" font-size="7.5" fill="#1a1a1a" text-anchor="end" stroke="#1a1a1a">10</text>
<text x="318.6" y="221.81" font-family="'Liberation Serif', serif" font-size="4.1" fill="#1a1a1a" stroke="#1a1a1a">&#8722;3</text>
<line x1="324.59999999999997" y1="199.04" x2="327.4" y2="199.04" stroke="#333333" stroke-width="1"/>
<text x="318.4" y="202.54" font-family="'Liberation Serif', serif" font-size="7.5" fill="#1a1a1a" text-anchor="end" stroke="#1a1a1a">10</text>
<text x="318.6" y="199.54" font-family="'Liberation Serif', serif" font-size="4.1" fill="#1a1a1a" stroke="#1a1a1a">&#8722;2</text>
<line x1="324.59999999999997" y1="176.77" x2="327.4" y2="176.77" stroke="#333333" stroke-width="1"/>
<text x="318.4" y="180.27" font-family="'Liberation Serif', serif" font-size="7.5" fill="#1a1a1a" text-anchor="end" stroke="#1a1a1a">10</text>
<text x="318.6" y="177.27" font-family="'Liberation Serif', serif" font-size="4.1" fill="#1a1a1a" stroke="#1a1a1a">&#8722;1</text>
<line x1="324.59999999999997" y1="154.50" x2="327.4" y2="154.50" stroke="#333333" stroke-width="1"/>
<text x="318.4" y="158.00" font-family="'Liberation Serif', serif" font-size="7.5" fill="#1a1a1a" text-anchor="end" stroke="#1a1a1a">10</text>
<text x="318.6" y="155.00" font-family="'Liberation Serif', serif" font-size="4.1" fill="#1a1a1a" stroke="#1a1a1a">0</text>
<line x1="325.5" y1="303.69" x2="327.4" y2="303.69" stroke="#333333" stroke-width="0.95"/>
<line x1="325.5" y1="299.76" x2="327.4" y2="299.76" stroke="#333333" stroke-width="0.95"/>
<line x1="325.5" y1="296.98" x2="327.4" y2="296.98" stroke="#333333" stroke-width="0.95"/>
<line x1="325.5" y1="294.82" x2="327.4" y2="294.82" stroke="#333333" stroke-width="0.95"/>
<line x1="325.5" y1="293.06" x2="327.4" y2="293.06" stroke="#333333" stroke-width="0.95"/>
<line x1="325.5" y1="291.57" x2="327.4" y2="291.57" stroke="#333333" stroke-width="0.95"/>
<line x1="325.5" y1="290.28" x2="327.4" y2="290.28" stroke="#333333" stroke-width="0.95"/>
<line x1="325.5" y1="289.14" x2="327.4" y2="289.14" stroke="#333333" stroke-width="0.95"/>
<line x1="325.5" y1="281.42" x2="327.4" y2="281.42" stroke="#333333" stroke-width="0.95"/>
<line x1="325.5" y1="277.49" x2="327.4" y2="277.49" stroke="#333333" stroke-width="0.95"/>
<line x1="325.5" y1="274.71" x2="327.4" y2="274.71" stroke="#333333" stroke-width="0.95"/>
<line x1="325.5" y1="272.55" x2="327.4" y2="272.55" stroke="#333333" stroke-width="0.95"/>
<line x1="325.5" y1="270.79" x2="327.4" y2="270.79" stroke="#333333" stroke-width="0.95"/>
<line x1="325.5" y1="269.30" x2="327.4" y2="269.30" stroke="#333333" stroke-width="0.95"/>
<line x1="325.5" y1="268.01" x2="327.4" y2="268.01" stroke="#333333" stroke-width="0.95"/>
<line x1="325.5" y1="266.87" x2="327.4" y2="266.87" stroke="#333333" stroke-width="0.95"/>
<line x1="325.5" y1="259.15" x2="327.4" y2="259.15" stroke="#333333" stroke-width="0.95"/>
<line x1="325.5" y1="255.22" x2="327.4" y2="255.22" stroke="#333333" stroke-width="0.95"/>
<line x1="325.5" y1="252.44" x2="327.4" y2="252.44" stroke="#333333" stroke-width="0.95"/>
<line x1="325.5" y1="250.28" x2="327.4" y2="250.28" stroke="#333333" stroke-width="0.95"/>
<line x1="325.5" y1="248.52" x2="327.4" y2="248.52" stroke="#333333" stroke-width="0.95"/>
<line x1="325.5" y1="247.03" x2="327.4" y2="247.03" stroke="#333333" stroke-width="0.95"/>
<line x1="325.5" y1="245.74" x2="327.4" y2="245.74" stroke="#333333" stroke-width="0.95"/>
<line x1="325.5" y1="244.60" x2="327.4" y2="244.60" stroke="#333333" stroke-width="0.95"/>
<line x1="325.5" y1="236.88" x2="327.4" y2="236.88" stroke="#333333" stroke-width="0.95"/>
<line x1="325.5" y1="232.95" x2="327.4" y2="232.95" stroke="#333333" stroke-width="0.95"/>
<line x1="325.5" y1="230.17" x2="327.4" y2="230.17" stroke="#333333" stroke-width="0.95"/>
<line x1="325.5" y1="228.01" x2="327.4" y2="228.01" stroke="#333333" stroke-width="0.95"/>
<line x1="325.5" y1="226.25" x2="327.4" y2="226.25" stroke="#333333" stroke-width="0.95"/>
<line x1="325.5" y1="224.76" x2="327.4" y2="224.76" stroke="#333333" stroke-width="0.95"/>
<line x1="325.5" y1="223.47" x2="327.4" y2="223.47" stroke="#333333" stroke-width="0.95"/>
<line x1="325.5" y1="222.33" x2="327.4" y2="222.33" stroke="#333333" stroke-width="0.95"/>
<line x1="325.5" y1="214.61" x2="327.4" y2="214.61" stroke="#333333" stroke-width="0.95"/>
<line x1="325.5" y1="210.68" x2="327.4" y2="210.68" stroke="#333333" stroke-width="0.95"/>
<line x1="325.5" y1="207.90" x2="327.4" y2="207.90" stroke="#333333" stroke-width="0.95"/>
<line x1="325.5" y1="205.74" x2="327.4" y2="205.74" stroke="#333333" stroke-width="0.95"/>
<line x1="325.5" y1="203.98" x2="327.4" y2="203.98" stroke="#333333" stroke-width="0.95"/>
<line x1="325.5" y1="202.49" x2="327.4" y2="202.49" stroke="#333333" stroke-width="0.95"/>
<line x1="325.5" y1="201.20" x2="327.4" y2="201.20" stroke="#333333" stroke-width="0.95"/>
<line x1="325.5" y1="200.06" x2="327.4" y2="200.06" stroke="#333333" stroke-width="0.95"/>
<line x1="325.5" y1="192.34" x2="327.4" y2="192.34" stroke="#333333" stroke-width="0.95"/>
<line x1="325.5" y1="188.41" x2="327.4" y2="188.41" stroke="#333333" stroke-width="0.95"/>
<line x1="325.5" y1="185.63" x2="327.4" y2="185.63" stroke="#333333" stroke-width="0.95"/>
<line x1="325.5" y1="183.47" x2="327.4" y2="183.47" stroke="#333333" stroke-width="0.95"/>
<line x1="325.5" y1="181.71" x2="327.4" y2="181.71" stroke="#333333" stroke-width="0.95"/>
<line x1="325.5" y1="180.22" x2="327.4" y2="180.22" stroke="#333333" stroke-width="0.95"/>
<line x1="325.5" y1="178.93" x2="327.4" y2="178.93" stroke="#333333" stroke-width="0.95"/>
<line x1="325.5" y1="177.79" x2="327.4" y2="177.79" stroke="#333333" stroke-width="0.95"/>
<line x1="325.5" y1="170.07" x2="327.4" y2="170.07" stroke="#333333" stroke-width="0.95"/>
<line x1="325.5" y1="166.14" x2="327.4" y2="166.14" stroke="#333333" stroke-width="0.95"/>
<line x1="325.5" y1="163.36" x2="327.4" y2="163.36" stroke="#333333" stroke-width="0.95"/>
<line x1="325.5" y1="161.20" x2="327.4" y2="161.20" stroke="#333333" stroke-width="0.95"/>
<line x1="325.5" y1="159.44" x2="327.4" y2="159.44" stroke="#333333" stroke-width="0.95"/>
<line x1="325.5" y1="157.95" x2="327.4" y2="157.95" stroke="#333333" stroke-width="0.95"/>
<line x1="325.5" y1="156.66" x2="327.4" y2="156.66" stroke="#333333" stroke-width="0.95"/>
<line x1="325.5" y1="155.52" x2="327.4" y2="155.52" stroke="#333333" stroke-width="0.95"/>
<line x1="325.5" y1="147.80" x2="327.4" y2="147.80" stroke="#333333" stroke-width="0.95"/>
<line x1="325.5" y1="143.87" x2="327.4" y2="143.87" stroke="#333333" stroke-width="0.95"/>
<line x1="325.5" y1="141.09" x2="327.4" y2="141.09" stroke="#333333" stroke-width="0.95"/>
<line x1="325.5" y1="138.93" x2="327.4" y2="138.93" stroke="#333333" stroke-width="0.95"/>
<line x1="343.00" y1="310.5" x2="343.00" y2="313.5" stroke="#333333" stroke-width="1"/>
<text x="343.00" y="323.0" font-family="'Liberation Serif', serif" font-size="7.3" fill="#1a1a1a" text-anchor="middle" stroke="#1a1a1a">0.0</text>
<line x1="358.67" y1="310.5" x2="358.67" y2="312.1" stroke="#333333" stroke-width="0.9"/>
<line x1="374.33" y1="310.5" x2="374.33" y2="313.5" stroke="#333333" stroke-width="1"/>
<text x="374.33" y="323.0" font-family="'Liberation Serif', serif" font-size="7.3" fill="#1a1a1a" text-anchor="middle" stroke="#1a1a1a">0.5</text>
<line x1="390.00" y1="310.5" x2="390.00" y2="312.1" stroke="#333333" stroke-width="0.9"/>
<line x1="405.67" y1="310.5" x2="405.67" y2="313.5" stroke="#333333" stroke-width="1"/>
<text x="405.67" y="323.0" font-family="'Liberation Serif', serif" font-size="7.3" fill="#1a1a1a" text-anchor="middle" stroke="#1a1a1a">1.0</text>
<line x1="421.34" y1="310.5" x2="421.34" y2="312.1" stroke="#333333" stroke-width="0.9"/>
<line x1="437.00" y1="310.5" x2="437.00" y2="313.5" stroke="#333333" stroke-width="1"/>
<text x="437.00" y="323.0" font-family="'Liberation Serif', serif" font-size="7.3" fill="#1a1a1a" text-anchor="middle" stroke="#1a1a1a">1.5</text>
<line x1="452.67" y1="310.5" x2="452.67" y2="312.1" stroke="#333333" stroke-width="0.9"/>
<line x1="468.34" y1="310.5" x2="468.34" y2="313.5" stroke="#333333" stroke-width="1"/>
<text x="468.34" y="323.0" font-family="'Liberation Serif', serif" font-size="7.3" fill="#1a1a1a" text-anchor="middle" stroke="#1a1a1a">2.0</text>
<line x1="484.01" y1="310.5" x2="484.01" y2="312.1" stroke="#333333" stroke-width="0.9"/>
<line x1="499.68" y1="310.5" x2="499.68" y2="313.5" stroke="#333333" stroke-width="1"/>
<text x="499.68" y="323.0" font-family="'Liberation Serif', serif" font-size="7.3" fill="#1a1a1a" text-anchor="middle" stroke="#1a1a1a">2.5</text>
<line x1="515.34" y1="310.5" x2="515.34" y2="312.1" stroke="#333333" stroke-width="0.9"/>
<line x1="531.01" y1="310.5" x2="531.01" y2="313.5" stroke="#333333" stroke-width="1"/>
<text x="531.01" y="323.0" font-family="'Liberation Serif', serif" font-size="7.3" fill="#1a1a1a" text-anchor="middle" stroke="#1a1a1a">3.0</text>
<line x1="349.04" y1="138.6" x2="349.04" y2="140.4" stroke="#333333" stroke-width="1"/>
<line x1="370.98" y1="138.6" x2="370.98" y2="140.4" stroke="#333333" stroke-width="1"/>
<line x1="392.92" y1="138.6" x2="392.92" y2="140.4" stroke="#333333" stroke-width="1"/>
<line x1="414.86" y1="138.6" x2="414.86" y2="140.4" stroke="#333333" stroke-width="1"/>
<line x1="436.80" y1="138.6" x2="436.80" y2="140.4" stroke="#333333" stroke-width="1"/>
<line x1="458.74" y1="138.6" x2="458.74" y2="140.4" stroke="#333333" stroke-width="1"/>
<line x1="480.68" y1="138.6" x2="480.68" y2="140.4" stroke="#333333" stroke-width="1"/>
<line x1="502.62" y1="138.6" x2="502.62" y2="140.4" stroke="#333333" stroke-width="1"/>
<line x1="524.56" y1="138.6" x2="524.56" y2="140.4" stroke="#333333" stroke-width="1"/>
<line x1="543.9" y1="154.30" x2="545.9" y2="154.30" stroke="#333333" stroke-width="1"/>
<line x1="543.9" y1="171.73" x2="545.9" y2="171.73" stroke="#333333" stroke-width="1"/>
<line x1="543.9" y1="189.15" x2="545.9" y2="189.15" stroke="#333333" stroke-width="1"/>
<line x1="543.9" y1="206.58" x2="545.9" y2="206.58" stroke="#333333" stroke-width="1"/>
<line x1="543.9" y1="224.00" x2="545.9" y2="224.00" stroke="#333333" stroke-width="1"/>
<line x1="543.9" y1="241.43" x2="545.9" y2="241.43" stroke="#333333" stroke-width="1"/>
<line x1="543.9" y1="258.85" x2="545.9" y2="258.85" stroke="#333333" stroke-width="1"/>
<line x1="543.9" y1="276.28" x2="545.9" y2="276.28" stroke="#333333" stroke-width="1"/>
<line x1="543.9" y1="293.70" x2="545.9" y2="293.70" stroke="#333333" stroke-width="1"/>
<text x="427.2" y="330.6" font-family="'Liberation Serif', serif" font-size="9" fill="#1a1a1a" stroke="#1a1a1a"><tspan font-style="italic">V</tspan><tspan font-size="6.5" dy="2">G</tspan><tspan dy="-2">(V)</tspan></text>
<text transform="translate(306.8,238.6) rotate(-90)" font-family="'Liberation Serif', serif" font-size="8.6" fill="#1a1a1a" stroke="#1a1a1a"><tspan font-style="italic">I</tspan><tspan font-size="6.2" dy="1.8">G</tspan><tspan dy="-1.8"> (&#956;A)</tspan></text>
</svg>
</body></html>
